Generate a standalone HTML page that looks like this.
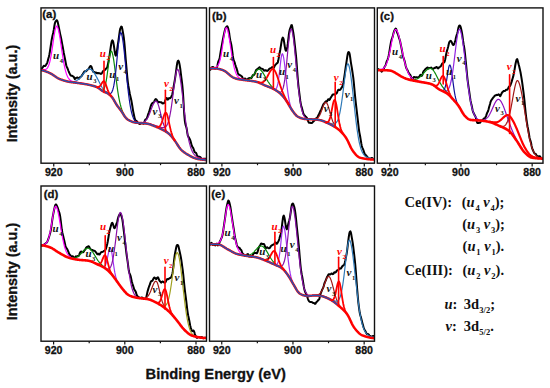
<!DOCTYPE html>
<html><head><meta charset="utf-8"><style>
html,body{margin:0;padding:0;background:#fff;}
svg{display:block}
.tk{font-family:"Liberation Sans",sans-serif;font-weight:bold;font-size:10.6px;text-anchor:middle;fill:#111;stroke:#111;stroke-width:0.3px}
.pl{font-family:"Liberation Sans",sans-serif;font-weight:bold;font-size:11.4px;fill:#111;stroke:#111;stroke-width:0.3px}
.ax{font-family:"Liberation Sans",sans-serif;font-weight:bold;font-size:14.7px;fill:#111;stroke:#111;stroke-width:0.3px}
.lb{font-family:"Liberation Serif",serif;font-weight:bold;font-style:italic;font-size:11px}
.sb{font-size:6.5px;font-style:normal}
.lg{font-family:"Liberation Serif",serif;font-weight:bold;font-size:14.5px;fill:#111}
.lgi{font-style:italic}
.lgs{font-size:8.5px}
</style></head><body>
<svg width="550" height="388" viewBox="0 0 550 388">
<rect width="550" height="388" fill="#fff"/>
<clipPath id="ca"><rect x="41.00" y="7.90" width="165.50" height="155.30"/></clipPath>
<g clip-path="url(#ca)" fill="none" stroke-linejoin="round" stroke-linecap="round">
<path d="M41.80,68.28 42.30,67.98 42.80,67.30 43.30,66.45 43.80,65.82 44.30,65.73 44.80,66.04 45.30,66.00 45.80,65.26 46.30,64.42 46.80,63.69 47.30,62.52 47.80,60.71 48.30,58.75 48.80,56.97 49.30,54.88 49.80,52.11 50.30,48.89 50.80,45.41 51.30,42.03 51.80,39.08 52.30,36.59 52.80,34.40 53.30,32.25 53.80,29.65 54.30,26.48 54.80,23.65 55.30,22.04 55.80,21.22 56.30,20.51 56.80,20.19 57.30,20.81 57.80,22.37 58.30,24.68 58.80,27.26 59.30,29.67 59.80,32.14 60.30,34.58 60.80,36.84 61.30,39.32 61.80,42.02 62.30,44.60 62.80,47.23 63.30,50.19 63.80,52.93 64.30,55.33 64.80,57.89 65.30,60.49 65.80,63.09 66.30,65.49 66.80,66.91 67.30,67.76 67.80,69.03 68.30,70.50 68.80,71.75 69.30,72.85 69.80,73.91 70.30,74.93 70.80,75.51 71.30,75.60 71.80,75.74 72.30,76.03 72.80,76.23 73.30,76.39 73.80,76.96 74.30,78.02 74.80,78.91 75.30,78.86 75.80,78.19 76.30,77.84 76.80,77.67 77.30,77.39 77.80,77.59 78.30,78.28 78.80,78.72 79.30,78.35 79.80,77.50 80.30,76.88 80.80,76.73 81.30,76.45 81.80,75.64 82.30,74.79 82.80,74.15 83.30,73.37 83.80,72.42 84.30,71.64 84.80,71.31 85.30,71.33 85.80,71.36 86.30,71.00 86.80,70.38 87.30,69.87 87.80,69.54 88.30,69.22 88.80,68.59 89.30,67.64 89.80,66.78 90.30,66.26 90.80,66.03 91.30,66.47 91.80,67.70 92.30,69.27 92.80,70.90 93.30,71.92 93.80,71.98 94.30,72.03 94.80,72.46 95.30,72.63 95.80,72.52 96.30,72.76 96.80,73.19 97.30,73.23 97.80,73.04 98.30,73.08 98.80,73.17 99.30,73.18 99.80,73.32 100.30,73.61 100.80,73.88 101.30,73.76 101.80,73.21 102.30,72.47 102.80,71.62 103.30,70.88 103.80,70.63 104.30,70.47 104.80,70.05 105.30,69.54 105.80,68.93 106.30,68.37 106.80,67.93 107.30,67.11 107.80,65.07 108.30,62.39 108.80,59.91 109.30,57.06 109.80,53.58 110.30,50.14 110.80,46.74 111.30,43.46 111.80,41.32 112.30,40.38 112.80,40.71 113.30,42.40 113.80,45.18 114.30,48.62 114.80,52.16 115.30,54.72 115.80,55.58 116.30,54.47 116.80,51.78 117.30,48.42 117.80,45.01 118.30,41.72 118.80,38.23 119.30,34.44 119.80,30.80 120.30,28.39 120.80,27.52 121.30,26.55 121.80,26.84 122.30,29.02 122.80,31.72 123.30,34.37 123.80,37.65 124.30,42.04 124.80,47.63 125.30,54.02 125.80,60.19 126.30,65.89 126.80,71.59 127.30,77.14 127.80,81.85 128.30,85.38 128.80,88.15 129.30,90.91 129.80,93.63 130.30,95.88 130.80,97.96 131.30,100.24 131.80,102.84 132.30,105.89 132.80,109.05 133.30,111.84 133.80,114.32 134.30,116.75 134.80,118.95 135.30,120.34 135.80,120.80 136.30,120.86 136.80,121.31 137.30,122.24 137.80,122.85 138.30,123.02 138.80,123.31 139.30,123.74 139.80,123.96 140.30,123.82 140.80,123.55 141.30,123.25 141.80,122.97 142.30,123.05 142.80,123.39 143.30,123.69 143.80,123.58 144.30,122.46 144.80,120.76 145.30,119.74 145.80,119.45 146.30,119.06 146.80,118.42 147.30,117.24 147.80,115.41 148.30,113.77 148.80,112.56 149.30,111.15 149.80,109.48 150.30,107.75 150.80,106.03 151.30,104.72 151.80,103.89 152.30,103.19 152.80,102.78 153.30,102.70 153.80,102.31 154.30,101.36 154.80,100.22 155.30,99.40 155.80,99.10 156.30,99.36 156.80,99.97 157.30,100.75 157.80,101.67 158.30,102.30 158.80,102.18 159.30,101.94 159.80,102.11 160.30,102.31 160.80,102.19 161.30,102.19 161.80,102.72 162.30,103.34 162.80,103.48 163.30,103.33 163.80,103.25 164.30,102.91 164.80,101.79 165.30,100.35 165.80,99.21 166.30,98.25 166.80,98.02 167.30,98.89 167.80,99.63 168.30,99.17 168.80,98.29 169.30,98.10 169.80,98.31 170.30,98.06 170.80,97.35 171.30,96.58 171.80,95.70 172.30,94.22 172.80,91.70 173.30,88.53 173.80,85.60 174.30,82.98 174.80,80.11 175.30,76.87 175.80,73.32 176.30,69.51 176.80,65.57 177.30,62.58 177.80,61.10 178.30,60.66 178.80,61.29 179.30,63.20 179.80,65.79 180.30,68.97 180.80,73.03 181.30,77.18 181.80,80.95 182.30,85.03 182.80,90.51 183.30,98.06 183.80,107.11 184.30,115.21 184.80,120.53 185.30,123.81 185.80,125.71 186.30,127.02 186.80,129.34 187.30,132.83 187.80,135.56 188.30,136.67 188.80,137.35 189.30,138.19 189.80,139.21 190.30,140.43 190.80,141.97 191.30,143.88 191.80,145.67 192.30,146.77 192.80,147.38 193.30,148.22 193.80,149.68 194.30,151.29 194.80,152.20 195.30,152.42 195.80,152.60 196.30,153.33 196.80,154.61 197.30,155.73 197.80,156.25 198.30,156.55 198.80,156.81 199.30,156.83 199.80,156.76 200.30,157.05 200.80,157.64 201.30,158.19 201.80,158.62 202.30,159.15 202.80,159.38 203.30,158.98 203.80,158.63 204.30,158.63 204.80,158.63 205.30,158.70 205.80,158.96" stroke="#000" stroke-width="2.00"/>
<path d="M41.80,69.58 42.30,69.60 42.80,69.63 43.30,69.66 43.80,69.68 44.30,69.68 44.80,69.63 45.30,69.53 45.80,69.35 46.30,69.07 46.80,68.66 47.30,68.09 47.80,67.33 48.30,66.35 48.80,65.11 49.30,63.58 49.80,61.74 50.30,59.59 50.80,57.12 51.30,54.35 51.80,51.30 52.30,48.04 52.80,44.64 53.30,41.18 53.80,37.78 54.30,34.57 54.80,31.69 55.30,29.28 55.80,27.47 56.30,26.39 56.80,26.11 57.30,26.59 57.80,27.68 58.30,29.33 58.80,31.48 59.30,34.06 59.80,36.97 60.30,40.14 60.80,43.47 61.30,46.88 61.80,50.30 62.30,53.66 62.80,56.89 63.30,59.95 63.80,62.80 64.30,65.43 64.80,67.81 65.30,69.93 65.80,71.81 66.30,73.45 66.80,74.87 67.30,76.08 67.80,77.11 68.30,77.97 68.80,78.69 69.30,79.29 69.80,79.78 70.30,80.19 70.80,80.53 71.30,80.81 71.80,81.04 72.30,81.24 72.80,81.41 73.30,81.56 73.80,81.69 74.30,81.80 74.80,81.91 75.30,82.01 75.80,82.11 76.30,82.20 76.80,82.30 77.30,82.39 77.80,82.48 78.30,82.57 78.80,82.66 79.30,82.75 79.80,82.84 80.30,82.93 80.80,83.02 81.30,83.11 81.80,83.20 82.30,83.29 82.80,83.37 83.30,83.46 83.80,83.55 84.30,83.65 84.80,83.74 85.30,83.83 85.80,83.93 86.30,84.03 86.80,84.13 87.30,84.24" stroke="#ff00ff" stroke-width="1.20"/>
<path d="M70.30,81.77 70.80,81.80 71.30,81.80 71.80,81.79 72.30,81.76 72.80,81.72 73.30,81.65 73.80,81.56 74.30,81.44 74.80,81.30 75.30,81.12 75.80,80.92 76.30,80.69 76.80,80.42 77.30,80.12 77.80,79.79 78.30,79.41 78.80,79.00 79.30,78.56 79.80,78.08 80.30,77.56 80.80,77.01 81.30,76.43 81.80,75.83 82.30,75.21 82.80,74.58 83.30,73.94 83.80,73.31 84.30,72.69 84.80,72.09 85.30,71.52 85.80,70.98 86.30,70.50 86.80,70.06 87.30,69.70 87.80,69.40 88.30,69.18 88.80,69.04 89.30,68.98 89.80,69.02 90.30,69.14 90.80,69.35 91.30,69.66 91.80,70.04 92.30,70.51 92.80,71.06 93.30,71.68 93.80,72.37 94.30,73.11 94.80,73.90 95.30,74.74 95.80,75.60 96.30,76.50 96.80,77.41 97.30,78.35 97.80,79.30 98.30,80.26 98.80,81.25 99.30,82.25 99.80,83.25 100.30,84.24 100.80,85.20 101.30,86.12 101.80,86.97 102.30,87.75 102.80,88.45 103.30,89.08 103.80,89.64 104.30,90.14 104.80,90.60 105.30,91.02 105.80,91.42 106.30,91.81 106.80,92.19 107.30,92.58 107.80,92.98 108.30,93.40 108.80,93.83 109.30,94.28 109.80,94.75" stroke="#2a78c0" stroke-width="1.20"/>
<path d="M100.80,89.54 101.30,89.83 101.80,90.02 102.30,90.08 102.80,89.97 103.30,89.64 103.80,89.04 104.30,88.12 104.80,86.83 105.30,85.12 105.80,82.95 106.30,80.31 106.80,77.22 107.30,73.74 107.80,69.97 108.30,66.05 108.80,62.18 109.30,58.57 109.80,55.46 110.30,53.06 110.80,51.56 111.30,51.11 111.80,51.71 112.30,53.03 112.80,55.01 113.30,57.60 113.80,60.71 114.30,64.26 114.80,68.10 115.30,72.13 115.80,76.22 116.30,80.25 116.80,84.16 117.30,87.86 117.80,91.31 118.30,94.49 118.80,97.38 119.30,99.98 119.80,102.31 120.30,104.39 120.80,106.25 121.30,107.92 121.80,109.43 122.30,110.82 122.80,112.09 123.30,113.26 123.80,114.33 124.30,115.30 124.80,116.16 125.30,116.93" stroke="#0a8a0a" stroke-width="1.20"/>
<path d="M107.30,93.04 107.80,93.24 108.30,93.43 108.80,93.58 109.30,93.68 109.80,93.69 110.30,93.59 110.80,93.32 111.30,92.85 111.80,92.12 112.30,91.09 112.80,89.71 113.30,87.91 113.80,85.64 114.30,82.86 114.80,79.53 115.30,75.64 115.80,71.24 116.30,66.39 116.80,61.23 117.30,55.91 117.80,50.64 118.30,45.65 118.80,41.17 119.30,37.43 119.80,34.62 120.30,32.93 120.80,32.48 121.30,33.22 121.80,34.78 122.30,37.10 122.80,40.12 123.30,43.77 123.80,47.94 124.30,52.53 124.80,57.43 125.30,62.52 125.80,67.70 126.30,72.86 126.80,77.94 127.30,82.85 127.80,87.53 128.30,91.93 128.80,96.02 129.30,99.77 129.80,103.16 130.30,106.21 130.80,108.92 131.30,111.29 131.80,113.36 132.30,115.13 132.80,116.63 133.30,117.89 133.80,118.94 134.30,119.80 134.80,120.49 135.30,121.05 135.80,121.49 136.30,121.84 136.80,122.11 137.30,122.32 137.80,122.49 138.30,122.62" stroke="#10109a" stroke-width="1.20"/>
<path d="M140.80,122.79 141.30,122.74 141.80,122.68 142.30,122.58 142.80,122.45 143.30,122.27 143.80,122.04 144.30,121.76 144.80,121.40 145.30,120.97 145.80,120.46 146.30,119.86 146.80,119.16 147.30,118.36 147.80,117.47 148.30,116.48 148.80,115.40 149.30,114.24 149.80,113.01 150.30,111.73 150.80,110.41 151.30,109.09 151.80,107.77 152.30,106.50 152.80,105.30 153.30,104.20 153.80,103.23 154.30,102.42 154.80,101.81 155.30,101.41 155.80,101.24 156.30,101.32 156.80,101.70 157.30,102.43 157.80,103.48 158.30,104.84 158.80,106.44 159.30,108.25 159.80,110.19 160.30,112.23 160.80,114.29 161.30,116.33 161.80,118.31 162.30,120.19 162.80,121.95 163.30,123.56 163.80,125.03 164.30,126.35 164.80,127.52 165.30,128.56 165.80,129.48 166.30,130.30 166.80,131.02 167.30,131.68 167.80,132.28 168.30,132.84 168.80,133.37 169.30,133.90" stroke="#8a10a8" stroke-width="1.20"/>
<path d="M134.30,122.14 134.80,122.23 135.30,122.31 135.80,122.38 136.30,122.43 136.80,122.47 137.30,122.51 137.80,122.54 138.30,122.57 138.80,122.60 139.30,122.62 139.80,122.65 140.30,122.67 140.80,122.70 141.30,122.73 141.80,122.77 142.30,122.80 142.80,122.83 143.30,122.87 143.80,122.90 144.30,122.94 144.80,122.98 145.30,123.02 145.80,123.07 146.30,123.12 146.80,123.17 147.30,123.23 147.80,123.31 148.30,123.39 148.80,123.49 149.30,123.61 149.80,123.74 150.30,123.88 150.80,124.04 151.30,124.20 151.80,124.38 152.30,124.55 152.80,124.72 153.30,124.90 153.80,125.06 154.30,125.23 154.80,125.39 155.30,125.55 155.80,125.71 156.30,125.87 156.80,126.03 157.30,126.19 157.80,126.35 158.30,126.51 158.80,126.68 159.30,126.84 159.80,127.00 160.30,127.15 160.80,127.29 161.30,127.42 161.80,127.53 162.30,127.61 162.80,127.66 163.30,127.68 163.80,127.64 164.30,127.53 164.80,127.35 165.30,127.06 165.80,126.66 166.30,126.11 166.80,125.38 167.30,124.46 167.80,123.31 168.30,121.91 168.80,120.24 169.30,118.27 169.80,116.00 170.30,113.43 170.80,110.55 171.30,107.38 171.80,103.93 172.30,100.25 172.80,96.39 173.30,92.41 173.80,88.40 174.30,84.46 174.80,80.71 175.30,77.28 175.80,74.31 176.30,71.93 176.80,70.25 177.30,69.36 177.80,69.35 178.30,70.17 178.80,71.59 179.30,73.57 179.80,76.05 180.30,78.97 180.80,82.27 181.30,85.89 181.80,89.76 182.30,93.82 182.80,98.00 183.30,102.24 183.80,106.48 184.30,110.66 184.80,114.74 185.30,118.68 185.80,122.44 186.30,126.00 186.80,129.34 187.30,132.44 187.80,135.31 188.30,137.94 188.80,140.33 189.30,142.50 189.80,144.45 190.30,146.20 190.80,147.75 191.30,149.14 191.80,150.36 192.30,151.44 192.80,152.39 193.30,153.22 193.80,153.95 194.30,154.58 194.80,155.14 195.30,155.62 195.80,156.04 196.30,156.40 196.80,156.72 197.30,156.99 197.80,157.22 198.30,157.43 198.80,157.62 199.30,157.78 199.80,157.94 200.30,158.08 200.80,158.21 201.30,158.34 201.80,158.45 202.30,158.56 202.80,158.66 203.30,158.75 203.80,158.84 204.30,158.91 204.80,158.98 205.30,159.04 205.80,159.09" stroke="#8a10a8" stroke-width="1.20"/>
<path d="M41.80,70.29 42.30,70.38 42.80,70.49 43.30,70.62 43.80,70.76 44.30,70.92 44.80,71.09 45.30,71.26 45.80,71.44 46.30,71.62 46.80,71.81 47.30,72.01 47.80,72.21 48.30,72.41 48.80,72.62 49.30,72.84 49.80,73.08 50.30,73.32 50.80,73.58 51.30,73.86 51.80,74.16 52.30,74.47 52.80,74.80 53.30,75.13 53.80,75.47 54.30,75.82 54.80,76.16 55.30,76.50 55.80,76.84 56.30,77.17 56.80,77.49 57.30,77.79 57.80,78.08 58.30,78.35 58.80,78.59 59.30,78.82 59.80,79.04 60.30,79.24 60.80,79.44 61.30,79.62 61.80,79.80 62.30,79.98 62.80,80.15 63.30,80.32 63.80,80.48 64.30,80.63 64.80,80.78 65.30,80.92 65.80,81.06 66.30,81.19 66.80,81.31 67.30,81.43 67.80,81.54 68.30,81.65 68.80,81.75 69.30,81.84 69.80,81.93 70.30,82.01 70.80,82.09 71.30,82.16 71.80,82.23 72.30,82.30 72.80,82.37 73.30,82.43 73.80,82.49 74.30,82.55 74.80,82.61 75.30,82.67 75.80,82.73 76.30,82.79 76.80,82.85 77.30,82.91 77.80,82.98 78.30,83.05 78.80,83.12 79.30,83.19 79.80,83.26 80.30,83.33 80.80,83.41 81.30,83.48 81.80,83.56 82.30,83.63 82.80,83.71 83.30,83.78 83.80,83.86 84.30,83.94 84.80,84.03 85.30,84.11 85.80,84.20 86.30,84.29 86.80,84.38 87.30,84.48 87.80,84.58 88.30,84.68 88.80,84.79 89.30,84.90 89.80,85.01 90.30,85.13 90.80,85.24 91.30,85.37 91.80,85.49 92.30,85.62 92.80,85.76 93.30,85.90 93.80,86.05 94.30,86.20 94.80,86.37 95.30,86.54 95.80,86.72 96.30,86.91 96.80,87.11 97.30,87.33 97.80,87.57 98.30,87.85 98.80,88.17 99.30,88.52 99.80,88.91 100.30,89.31 100.80,89.73 101.30,90.13 101.80,90.51 102.30,90.86 102.80,91.17 103.30,91.44 103.80,91.67 104.30,91.89 104.80,92.09 105.30,92.29 105.80,92.49 106.30,92.71 106.80,92.95 107.30,93.21 107.80,93.50 108.30,93.82 108.80,94.18 109.30,94.56 109.80,94.98 110.30,95.42 110.80,95.90 111.30,96.43 111.80,97.00 112.30,97.63 112.80,98.33 113.30,99.10 113.80,99.92 114.30,100.79 114.80,101.67 115.30,102.55 115.80,103.41 116.30,104.22 116.80,104.99 117.30,105.72 117.80,106.42 118.30,107.08 118.80,107.74 119.30,108.38 119.80,109.03 120.30,109.69 120.80,110.37 121.30,111.08 121.80,111.83 122.30,112.61 122.80,113.41 123.30,114.21 123.80,115.01 124.30,115.78 124.80,116.50 125.30,117.16 125.80,117.75 126.30,118.28 126.80,118.75 127.30,119.17 127.80,119.55 128.30,119.89 128.80,120.19 129.30,120.47 129.80,120.73 130.30,120.97 130.80,121.19 131.30,121.41 131.80,121.61 132.30,121.80 132.80,121.97 133.30,122.13 133.80,122.27 134.30,122.38 134.80,122.49 135.30,122.57 135.80,122.64 136.30,122.70 136.80,122.75 137.30,122.79 137.80,122.83 138.30,122.87 138.80,122.90 139.30,122.93 139.80,122.97 140.30,123.00 140.80,123.04 141.30,123.08 141.80,123.12 142.30,123.16 142.80,123.21 143.30,123.25 143.80,123.30 144.30,123.35 144.80,123.40 145.30,123.46 145.80,123.51 146.30,123.58 146.80,123.65 147.30,123.72 147.80,123.81 148.30,123.91 148.80,124.03 149.30,124.16 149.80,124.31 150.30,124.48 150.80,124.66 151.30,124.84 151.80,125.04 152.30,125.24 152.80,125.44 153.30,125.64 153.80,125.84 154.30,126.03 154.80,126.23 155.30,126.42 155.80,126.62 156.30,126.82 156.80,127.02 157.30,127.23 157.80,127.44 158.30,127.66 158.80,127.89 159.30,128.12 159.80,128.35 160.30,128.59 160.80,128.83 161.30,129.08 161.80,129.33 162.30,129.59 162.80,129.85 163.30,130.11 163.80,130.39 164.30,130.67 164.80,130.96 165.30,131.26 165.80,131.57 166.30,131.89 166.80,132.22 167.30,132.57 167.80,132.93 168.30,133.31 168.80,133.71 169.30,134.14 169.80,134.59 170.30,135.09 170.80,135.61 171.30,136.17 171.80,136.76 172.30,137.36 172.80,137.99 173.30,138.64 173.80,139.29 174.30,139.96 174.80,140.65 175.30,141.37 175.80,142.11 176.30,142.88 176.80,143.67 177.30,144.48 177.80,145.27 178.30,146.06 178.80,146.81 179.30,147.51 179.80,148.17 180.30,148.77 180.80,149.32 181.30,149.83 181.80,150.31 182.30,150.76 182.80,151.19 183.30,151.60 183.80,152.00 184.30,152.38 184.80,152.74 185.30,153.09 185.80,153.43 186.30,153.75 186.80,154.07 187.30,154.37 187.80,154.66 188.30,154.95 188.80,155.23 189.30,155.50 189.80,155.78 190.30,156.05 190.80,156.32 191.30,156.58 191.80,156.83 192.30,157.08 192.80,157.32 193.30,157.55 193.80,157.76 194.30,157.97 194.80,158.16 195.30,158.34 195.80,158.50 196.30,158.65 196.80,158.78 197.30,158.90 197.80,159.00 198.30,159.09 198.80,159.18 199.30,159.26 199.80,159.34 200.30,159.41 200.80,159.48 201.30,159.55 201.80,159.61 202.30,159.67 202.80,159.73 203.30,159.78 203.80,159.83 204.30,159.87 204.80,159.90 205.30,159.93 205.80,159.95" stroke="#ff0000" stroke-width="2.50"/>
<path d="M41.80,70.29 42.30,70.38 42.80,70.49 43.30,70.62 43.80,70.76 44.30,70.92 44.80,71.09 45.30,71.26 45.80,71.44 46.30,71.62 46.80,71.81 47.30,72.01 47.80,72.21 48.30,72.41 48.80,72.62 49.30,72.84 49.80,73.08 50.30,73.32 50.80,73.58 51.30,73.86 51.80,74.16 52.30,74.47 52.80,74.80 53.30,75.13 53.80,75.47 54.30,75.82 54.80,76.16 55.30,76.50 55.80,76.84 56.30,77.17 56.80,77.49 57.30,77.79 57.80,78.08 58.30,78.35 58.80,78.59 59.30,78.82 59.80,79.04 60.30,79.24 60.80,79.44 61.30,79.62 61.80,79.80 62.30,79.98 62.80,80.15 63.30,80.32 63.80,80.48 64.30,80.63 64.80,80.78 65.30,80.92 65.80,81.06 66.30,81.19 66.80,81.31 67.30,81.43 67.80,81.54 68.30,81.65 68.80,81.75 69.30,81.84 69.80,81.93 70.30,82.01 70.80,82.09 71.30,82.16 71.80,82.23 72.30,82.30 72.80,82.37 73.30,82.43 73.80,82.49 74.30,82.55 74.80,82.61 75.30,82.67 75.80,82.73 76.30,82.79 76.80,82.85 77.30,82.91 77.80,82.98 78.30,83.05 78.80,83.12 79.30,83.19 79.80,83.26 80.30,83.33 80.80,83.41 81.30,83.48 81.80,83.56 82.30,83.63 82.80,83.71 83.30,83.78 83.80,83.86 84.30,83.94 84.80,84.03 85.30,84.11 85.80,84.20 86.30,84.29 86.80,84.38 87.30,84.48 87.80,84.58 88.30,84.68 88.80,84.79 89.30,84.90 89.80,85.01 90.30,85.13 90.80,85.24 91.30,85.37 91.80,85.49 92.30,85.62 92.80,85.76 93.30,85.90 93.80,86.05 94.30,86.20 94.80,86.37 95.30,86.54 95.80,86.72 96.30,86.91 96.80,87.11 97.30,87.33 97.80,87.57 98.30,87.85 98.80,88.17 99.30,88.52 99.80,88.91 100.30,89.31 100.80,89.73 101.30,90.13 101.80,90.51 102.30,90.86 102.80,91.17 103.30,91.44 103.80,91.67 104.30,91.89 104.80,92.09 105.30,92.29 105.80,92.49 106.30,92.71 106.80,92.95 107.30,93.21 107.80,93.50 108.30,93.82 108.80,94.18 109.30,94.56 109.80,94.98 110.30,95.42 110.80,95.90 111.30,96.43 111.80,97.00 112.30,97.63 112.80,98.33 113.30,99.10 113.80,99.92 114.30,100.79 114.80,101.67 115.30,102.55 115.80,103.41 116.30,104.22 116.80,104.99 117.30,105.72 117.80,106.42 118.30,107.08 118.80,107.74 119.30,108.38 119.80,109.03 120.30,109.69 120.80,110.37 121.30,111.08 121.80,111.83 122.30,112.61 122.80,113.41 123.30,114.21 123.80,115.01 124.30,115.78 124.80,116.50 125.30,117.16 125.80,117.75 126.30,118.28 126.80,118.75 127.30,119.17 127.80,119.55 128.30,119.89 128.80,120.19 129.30,120.47 129.80,120.73 130.30,120.97 130.80,121.19 131.30,121.41 131.80,121.61 132.30,121.80 132.80,121.97 133.30,122.13 133.80,122.27 134.30,122.38 134.80,122.49 135.30,122.57 135.80,122.64 136.30,122.70 136.80,122.75 137.30,122.79 137.80,122.83 138.30,122.87 138.80,122.90 139.30,122.93 139.80,122.97 140.30,123.00 140.80,123.04 141.30,123.08 141.80,123.12 142.30,123.16 142.80,123.21 143.30,123.25 143.80,123.30 144.30,123.35 144.80,123.40 145.30,123.46 145.80,123.51 146.30,123.58 146.80,123.65 147.30,123.72 147.80,123.81 148.30,123.91 148.80,124.03 149.30,124.16 149.80,124.31 150.30,124.48 150.80,124.66 151.30,124.84 151.80,125.04 152.30,125.24 152.80,125.44 153.30,125.64 153.80,125.84 154.30,126.03 154.80,126.23 155.30,126.42 155.80,126.62 156.30,126.82 156.80,127.02 157.30,127.23 157.80,127.44 158.30,127.66 158.80,127.89 159.30,128.12 159.80,128.35 160.30,128.59 160.80,128.83 161.30,129.08 161.80,129.33 162.30,129.59 162.80,129.85 163.30,130.11 163.80,130.39 164.30,130.67 164.80,130.96 165.30,131.26 165.80,131.57 166.30,131.89 166.80,132.22 167.30,132.57 167.80,132.93 168.30,133.31 168.80,133.71 169.30,134.14 169.80,134.59 170.30,135.09 170.80,135.61 171.30,136.17 171.80,136.76 172.30,137.36 172.80,137.99 173.30,138.64 173.80,139.29 174.30,139.96 174.80,140.65 175.30,141.37 175.80,142.11 176.30,142.88 176.80,143.67 177.30,144.48 177.80,145.27 178.30,146.06 178.80,146.81 179.30,147.51 179.80,148.17 180.30,148.77 180.80,149.32 181.30,149.83 181.80,150.31 182.30,150.76 182.80,151.19 183.30,151.60 183.80,152.00 184.30,152.38 184.80,152.74 185.30,153.09 185.80,153.43 186.30,153.75 186.80,154.07 187.30,154.37 187.80,154.66 188.30,154.95 188.80,155.23 189.30,155.50 189.80,155.78 190.30,156.05 190.80,156.32 191.30,156.58 191.80,156.83 192.30,157.08 192.80,157.32 193.30,157.55 193.80,157.76 194.30,157.97 194.80,158.16 195.30,158.34 195.80,158.50 196.30,158.65 196.80,158.78 197.30,158.90 197.80,159.00 198.30,159.09 198.80,159.18 199.30,159.26 199.80,159.34 200.30,159.41 200.80,159.48 201.30,159.55 201.80,159.61 202.30,159.67 202.80,159.73 203.30,159.78 203.80,159.83 204.30,159.87 204.80,159.90 205.30,159.93 205.80,159.95" stroke="#2a50b0" stroke-width="1.5"/>
<path d="M96.80,86.92 97.30,87.00 97.80,87.03 98.30,86.99 98.80,86.86 99.30,86.60 99.80,86.21 100.30,85.66 100.80,84.96 101.30,84.14 101.80,83.28 102.30,82.45 102.80,81.77 103.30,81.32 103.80,81.21 104.30,81.46 104.80,82.10 105.30,83.07 105.80,84.31 106.30,85.72 106.80,87.21 107.30,88.67 107.80,90.05 108.30,91.29 108.80,92.40 109.30,93.35 109.80,94.19 110.30,94.93 110.80,95.61 111.30,96.25" stroke="#ff0000" stroke-width="1.80"/>
<path d="M156.80,126.86 157.30,126.97 157.80,127.02 158.30,127.00 158.80,126.87 159.30,126.62 159.80,126.19 160.30,125.57 160.80,124.72 161.30,123.64 161.80,122.33 162.30,120.83 162.80,119.20 163.30,117.54 163.80,115.94 164.30,114.54 164.80,113.45 165.30,112.78 165.80,112.61 166.30,112.99 166.80,113.90 167.30,115.30 167.80,117.11 168.30,119.22 168.80,121.52 169.30,123.88 169.80,126.20 170.30,128.41 170.80,130.45 171.30,132.29 171.80,133.92 172.30,135.35 172.80,136.61 173.30,137.71 173.80,138.69 174.30,139.58 174.80,140.42" stroke="#ff0000" stroke-width="1.80"/>
<path d="M104.00,61.40 V92.50" stroke="#ff0000" stroke-width="1.6"/>
<path d="M165.40,90.20 V131.00" stroke="#ff0000" stroke-width="1.6"/>
</g>
<text x="53.10" y="58.90" fill="#111" class="lb">u<tspan class="sb" dx="0.5" dy="3.6">4</tspan></text>
<text x="86.60" y="79.70" fill="#111" class="lb">u<tspan class="sb" dx="0.5" dy="3.6">3</tspan></text>
<text x="99.80" y="56.70" fill="#ff0000" class="lb">u<tspan class="sb" dx="0.5" dy="3.6">2</tspan></text>
<text x="109.30" y="77.80" fill="#111" class="lb">u<tspan class="sb" dx="0.5" dy="3.6">1</tspan></text>
<text x="118.20" y="70.20" fill="#111" class="lb">v<tspan class="sb" dx="0.5" dy="3.6">4</tspan></text>
<text x="152.50" y="114.50" fill="#111" class="lb">v<tspan class="sb" dx="0.5" dy="3.6">3</tspan></text>
<text x="163.90" y="87.00" fill="#ff0000" class="lb">v<tspan class="sb" dx="0.5" dy="3.6">2</tspan></text>
<text x="174.00" y="104.40" fill="#111" class="lb">v<tspan class="sb" dx="0.5" dy="3.6">1</tspan></text>
<rect x="41.00" y="7.90" width="165.50" height="155.30" fill="none" stroke="#111" stroke-width="1.4"/>
<path d="M53.75,163.20 V166.60" stroke="#111" stroke-width="1.2"/>
<text x="53.75" y="175.80" class="tk">920</text>
<path d="M89.35,163.20 V165.20" stroke="#111" stroke-width="1.2"/>
<path d="M124.95,163.20 V166.60" stroke="#111" stroke-width="1.2"/>
<text x="124.95" y="175.80" class="tk">900</text>
<path d="M160.55,163.20 V165.20" stroke="#111" stroke-width="1.2"/>
<path d="M196.15,163.20 V166.60" stroke="#111" stroke-width="1.2"/>
<text x="196.15" y="175.80" class="tk">880</text>
<text x="42.30" y="18.40" class="pl">(a)</text>
<clipPath id="cb"><rect x="209.50" y="7.90" width="165.00" height="155.30"/></clipPath>
<g clip-path="url(#cb)" fill="none" stroke-linejoin="round" stroke-linecap="round">
<path d="M210.30,69.79 210.80,68.79 211.30,67.80 211.80,67.33 212.30,67.10 212.80,66.91 213.30,67.13 213.80,67.63 214.30,68.02 214.80,68.46 215.30,68.65 215.80,68.42 216.30,68.16 216.80,67.55 217.30,65.92 217.80,63.61 218.30,61.59 218.80,60.46 219.30,59.39 219.80,57.19 220.30,54.01 220.80,50.86 221.30,48.10 221.80,45.43 222.30,42.67 222.80,39.98 223.30,37.39 223.80,34.96 224.30,32.71 224.80,30.55 225.30,28.75 225.80,27.64 226.30,26.98 226.80,26.42 227.30,26.29 227.80,27.15 228.30,28.85 228.80,31.03 229.30,34.03 229.80,37.56 230.30,40.42 230.80,42.45 231.30,44.69 231.80,47.84 232.30,51.70 232.80,55.73 233.30,58.90 233.80,60.58 234.30,61.54 234.80,62.90 235.30,64.68 235.80,66.30 236.30,67.69 236.80,69.17 237.30,70.89 237.80,72.76 238.30,74.16 238.80,74.68 239.30,74.78 239.80,74.99 240.30,75.31 240.80,75.71 241.30,76.03 241.80,76.35 242.30,77.14 242.80,78.23 243.30,78.99 243.80,79.29 244.30,79.05 244.80,78.52 245.30,78.54 245.80,79.11 246.30,79.52 246.80,79.69 247.30,79.64 247.80,79.08 248.30,78.36 248.80,78.26 249.30,78.48 249.80,78.19 250.30,77.83 250.80,78.05 251.30,78.15 251.80,77.48 252.30,76.25 252.80,75.24 253.30,75.03 253.80,75.13 254.30,74.64 254.80,73.54 255.30,72.12 255.80,70.72 256.30,69.76 256.80,69.44 257.30,69.23 257.80,68.80 258.30,68.42 258.80,67.88 259.30,67.32 259.80,67.37 260.30,67.89 260.80,68.36 261.30,68.55 261.80,68.67 262.30,68.84 262.80,69.06 263.30,69.58 263.80,70.37 264.30,70.70 264.80,70.48 265.30,70.32 265.80,70.31 266.30,70.48 266.80,70.79 267.30,70.92 267.80,70.68 268.30,70.06 268.80,69.40 269.30,68.82 269.80,68.46 270.30,68.36 270.80,68.25 271.30,67.93 271.80,67.39 272.30,67.06 272.80,67.38 273.30,67.93 273.80,67.88 274.30,66.86 274.80,65.59 275.30,64.91 275.80,64.50 276.30,63.81 276.80,63.27 277.30,63.18 277.80,62.44 278.30,60.33 278.80,57.61 279.30,54.90 279.80,52.28 280.30,49.52 280.80,46.32 281.30,43.10 281.80,40.37 282.30,38.42 282.80,37.62 283.30,38.13 283.80,40.11 284.30,43.25 284.80,46.56 285.30,49.41 285.80,50.78 286.30,50.62 286.80,49.27 287.30,47.00 287.80,43.67 288.30,39.31 288.80,35.01 289.30,31.66 289.80,29.39 290.30,28.18 290.80,26.93 291.30,25.25 291.80,25.08 292.30,27.07 292.80,29.82 293.30,32.67 293.80,36.24 294.30,40.48 294.80,44.92 295.30,49.31 295.80,53.90 296.30,59.14 296.80,65.50 297.30,72.59 297.80,79.13 298.30,84.52 298.80,88.77 299.30,92.77 299.80,96.99 300.30,100.88 300.80,103.87 301.30,105.97 301.80,107.63 302.30,109.42 302.80,111.48 303.30,113.48 303.80,114.73 304.30,115.13 304.80,115.49 305.30,116.15 305.80,116.76 306.30,117.22 306.80,117.68 307.30,118.47 307.80,119.97 308.30,121.65 308.80,122.60 309.30,122.87 309.80,122.80 310.30,122.78 310.80,122.93 311.30,123.10 311.80,123.08 312.30,122.66 312.80,122.06 313.30,121.59 313.80,121.15 314.30,120.64 314.80,119.77 315.30,118.87 315.80,118.52 316.30,118.37 316.80,117.94 317.30,117.28 317.80,116.44 318.30,115.48 318.80,114.52 319.30,113.52 319.80,112.38 320.30,111.25 320.80,110.33 321.30,109.36 321.80,108.15 322.30,106.91 322.80,105.62 323.30,104.45 323.80,103.76 324.30,103.26 324.80,102.59 325.30,101.84 325.80,101.32 326.30,101.35 326.80,101.52 327.30,100.97 327.80,99.80 328.30,99.19 328.80,99.51 329.30,99.90 329.80,99.48 330.30,98.40 330.80,97.48 331.30,96.90 331.80,95.96 332.30,94.95 332.80,94.60 333.30,94.52 333.80,94.34 334.30,94.54 334.80,94.61 335.30,94.00 335.80,93.64 336.30,93.66 336.80,93.09 337.30,91.81 337.80,90.51 338.30,89.73 338.80,89.68 339.30,89.97 339.80,90.01 340.30,89.69 340.80,89.01 341.30,88.11 341.80,87.38 342.30,86.59 342.80,85.18 343.30,82.96 343.80,80.08 344.30,76.95 344.80,73.65 345.30,69.99 345.80,66.44 346.30,63.26 346.80,59.93 347.30,56.44 347.80,53.60 348.30,52.21 348.80,52.08 349.30,52.84 349.80,54.80 350.30,58.14 350.80,61.83 351.30,64.91 351.80,67.77 352.30,71.00 352.80,74.32 353.30,77.93 353.80,82.62 354.30,88.00 354.80,93.32 355.30,98.32 355.80,102.83 356.30,107.04 356.80,111.38 357.30,115.73 357.80,119.94 358.30,124.26 358.80,128.56 359.30,132.08 359.80,134.69 360.30,137.29 360.80,140.36 361.30,143.43 361.80,145.95 362.30,147.65 362.80,148.68 363.30,149.79 363.80,151.35 364.30,152.99 364.80,154.05 365.30,154.47 365.80,155.06 366.30,155.78 366.80,156.17 367.30,156.70 367.80,157.65 368.30,158.29 368.80,158.38 369.30,158.43 369.80,158.64 370.30,158.76 370.80,158.55 371.30,158.08 371.80,157.89 372.30,158.14 372.80,158.54 373.30,158.97 373.80,159.23" stroke="#000" stroke-width="2.00"/>
<path d="M210.30,67.98 210.80,67.95 211.30,67.92 211.80,67.89 212.30,67.85 212.80,67.80 213.30,67.75 213.80,67.68 214.30,67.59 214.80,67.48 215.30,67.34 215.80,67.16 216.30,66.93 216.80,66.60 217.30,66.16 217.80,65.57 218.30,64.78 218.80,63.75 219.30,62.45 219.80,60.83 220.30,58.86 220.80,56.55 221.30,53.89 221.80,50.91 222.30,47.67 222.80,44.26 223.30,40.79 223.80,37.40 224.30,34.26 224.80,31.56 225.30,29.46 225.80,28.13 226.30,27.69 226.80,28.12 227.30,29.19 227.80,30.84 228.30,32.99 228.80,35.58 229.30,38.52 229.80,41.70 230.30,45.02 230.80,48.40 231.30,51.74 231.80,54.97 232.30,58.03 232.80,60.88 233.30,63.49 233.80,65.86 234.30,67.97 234.80,69.83 235.30,71.44 235.80,72.82 236.30,73.99 236.80,74.97 237.30,75.79 237.80,76.45 238.30,77.00 238.80,77.45 239.30,77.82 239.80,78.12 240.30,78.37 240.80,78.58 241.30,78.76 241.80,78.91 242.30,79.05 242.80,79.17 243.30,79.29 243.80,79.40 244.30,79.51 244.80,79.61 245.30,79.70 245.80,79.79 246.30,79.88 246.80,79.96 247.30,80.04 247.80,80.12 248.30,80.20 248.80,80.28 249.30,80.35 249.80,80.43 250.30,80.50 250.80,80.58 251.30,80.65 251.80,80.73 252.30,80.81 252.80,80.90 253.30,80.98" stroke="#ff00ff" stroke-width="1.20"/>
<path d="M245.30,79.93 245.80,79.92 246.30,79.89 246.80,79.83 247.30,79.74 247.80,79.62 248.30,79.45 248.80,79.25 249.30,79.00 249.80,78.70 250.30,78.34 250.80,77.93 251.30,77.46 251.80,76.94 252.30,76.37 252.80,75.75 253.30,75.09 253.80,74.40 254.30,73.69 254.80,72.98 255.30,72.28 255.80,71.62 256.30,71.00 256.80,70.45 257.30,69.99 257.80,69.64 258.30,69.41 258.80,69.31 259.30,69.35 259.80,69.52 260.30,69.81 260.80,70.21 261.30,70.69 261.80,71.27 262.30,71.92 262.80,72.64 263.30,73.42 263.80,74.25 264.30,75.10 264.80,75.98 265.30,76.87 265.80,77.76 266.30,78.65 266.80,79.51 267.30,80.36 267.80,81.18 268.30,81.97 268.80,82.72 269.30,83.43 269.80,84.11 270.30,84.75 270.80,85.35 271.30,85.91 271.80,86.45 272.30,86.95 272.80,87.43 273.30,87.88 273.80,88.32 274.30,88.73 274.80,89.14 275.30,89.53 275.80,89.91 276.30,90.29 276.80,90.67" stroke="#0a8a0a" stroke-width="1.20"/>
<path d="M274.30,89.16 274.80,89.24 275.30,89.18 275.80,88.93 276.30,88.39 276.80,87.45 277.30,85.99 277.80,83.90 278.30,81.13 278.80,77.67 279.30,73.61 279.80,69.15 280.30,64.61 280.80,60.38 281.30,56.89 281.80,54.56 282.30,53.67 282.80,54.30 283.30,55.98 283.80,58.60 284.30,62.01 284.80,66.03 285.30,70.46 285.80,75.08 286.30,79.71 286.80,84.18 287.30,88.37 287.80,92.19 288.30,95.60 288.80,98.58 289.30,101.13 289.80,103.31 290.30,105.14 290.80,106.68 291.30,107.98 291.80,109.09 292.30,110.06 292.80,110.93 293.30,111.73" stroke="#a030f0" stroke-width="1.20"/>
<path d="M277.80,91.38 278.30,91.64 278.80,91.86 279.30,92.03 279.80,92.13 280.30,92.13 280.80,91.98 281.30,91.66 281.80,91.09 282.30,90.24 282.80,89.02 283.30,87.38 283.80,85.26 284.30,82.61 284.80,79.41 285.30,75.64 285.80,71.34 286.30,66.59 286.80,61.47 287.30,56.14 287.80,50.77 288.30,45.56 288.80,40.72 289.30,36.46 289.80,33.00 290.30,30.51 290.80,29.15 291.30,29.03 291.80,30.01 292.30,31.80 292.80,34.36 293.30,37.62 293.80,41.53 294.30,45.96 294.80,50.82 295.30,55.98 295.80,61.32 296.30,66.72 296.80,72.06 297.30,77.26 297.80,82.23 298.30,86.92 298.80,91.28 299.30,95.29 299.80,98.93 300.30,102.19 300.80,105.07 301.30,107.58 301.80,109.75 302.30,111.60 302.80,113.15 303.30,114.44 303.80,115.50 304.30,116.36 304.80,117.04 305.30,117.58 305.80,118.01 306.30,118.33 306.80,118.58 307.30,118.77 307.80,118.92 308.30,119.03" stroke="#8a10a8" stroke-width="1.20"/>
<path d="M314.30,119.30 314.80,119.24 315.30,119.16 315.80,119.04 316.30,118.87 316.80,118.63 317.30,118.31 317.80,117.90 318.30,117.37 318.80,116.71 319.30,115.92 319.80,114.98 320.30,113.91 320.80,112.72 321.30,111.41 321.80,110.04 322.30,108.63 322.80,107.23 323.30,105.91 323.80,104.71 324.30,103.71 324.80,102.95 325.30,102.48 325.80,102.34 326.30,102.54 326.80,103.08 327.30,103.95 327.80,105.11 328.30,106.52 328.80,108.12 329.30,109.86 329.80,111.67 330.30,113.50 330.80,115.29 331.30,117.01 331.80,118.62 332.30,120.10 332.80,121.43 333.30,122.62 333.80,123.67 334.30,124.59 334.80,125.40 335.30,126.11 335.80,126.74 336.30,127.30 336.80,127.81 337.30,128.29 337.80,128.75" stroke="#a01818" stroke-width="1.20"/>
<path d="M308.80,119.03 309.30,119.04 309.80,119.05 310.30,119.05 310.80,119.06 311.30,119.07 311.80,119.08 312.30,119.08 312.80,119.09 313.30,119.11 313.80,119.12 314.30,119.14 314.80,119.16 315.30,119.18 315.80,119.21 316.30,119.25 316.80,119.29 317.30,119.33 317.80,119.38 318.30,119.44 318.80,119.51 319.30,119.58 319.80,119.66 320.30,119.76 320.80,119.87 321.30,119.99 321.80,120.13 322.30,120.28 322.80,120.44 323.30,120.61 323.80,120.79 324.30,120.97 324.80,121.16 325.30,121.36 325.80,121.56 326.30,121.76 326.80,121.96 327.30,122.17 327.80,122.36 328.30,122.56 328.80,122.75 329.30,122.93 329.80,123.11 330.30,123.28 330.80,123.45 331.30,123.59 331.80,123.73 332.30,123.84 332.80,123.92 333.30,123.96 333.80,123.95 334.30,123.88 334.80,123.74 335.30,123.49 335.80,123.13 336.30,122.62 336.80,121.95 337.30,121.09 337.80,120.01 338.30,118.69 338.80,117.09 339.30,115.21 339.80,113.03 340.30,110.53 340.80,107.72 341.30,104.61 341.80,101.22 342.30,97.57 342.80,93.73 343.30,89.75 343.80,85.70 344.30,81.68 344.80,77.79 345.30,74.14 345.80,70.85 346.30,68.05 346.80,65.87 347.30,64.44 347.80,63.83 348.30,64.10 348.80,65.23 349.30,67.01 349.80,69.39 350.30,72.30 350.80,75.66 351.30,79.40 351.80,83.44 352.30,87.71 352.80,92.15 353.30,96.71 353.80,101.33 354.30,105.96 354.80,110.54 355.30,115.00 355.80,119.32 356.30,123.43 356.80,127.31 357.30,130.93 357.80,134.27 358.30,137.32 358.80,140.07 359.30,142.53 359.80,144.70 360.30,146.62 360.80,148.29 361.30,149.75 361.80,151.03 362.30,152.13 362.80,153.09 363.30,153.91 363.80,154.62 364.30,155.22 364.80,155.74 365.30,156.18 365.80,156.56 366.30,156.88 366.80,157.16 367.30,157.40 367.80,157.60 368.30,157.78 368.80,157.94 369.30,158.08 369.80,158.20 370.30,158.31 370.80,158.40 371.30,158.49 371.80,158.56 372.30,158.63 372.80,158.69 373.30,158.74 373.80,158.78" stroke="#2f7ab8" stroke-width="1.20"/>
<path d="M210.30,68.40 210.80,68.40 211.30,68.40 211.80,68.40 212.30,68.40 212.80,68.40 213.30,68.40 213.80,68.40 214.30,68.41 214.80,68.42 215.30,68.44 215.80,68.48 216.30,68.53 216.80,68.59 217.30,68.67 217.80,68.76 218.30,68.86 218.80,68.97 219.30,69.08 219.80,69.19 220.30,69.32 220.80,69.45 221.30,69.59 221.80,69.75 222.30,69.92 222.80,70.10 223.30,70.30 223.80,70.53 224.30,70.78 224.80,71.06 225.30,71.38 225.80,71.73 226.30,72.11 226.80,72.51 227.30,72.92 227.80,73.34 228.30,73.77 228.80,74.20 229.30,74.63 229.80,75.07 230.30,75.50 230.80,75.91 231.30,76.30 231.80,76.65 232.30,76.97 232.80,77.26 233.30,77.52 233.80,77.76 234.30,77.98 234.80,78.18 235.30,78.36 235.80,78.53 236.30,78.69 236.80,78.82 237.30,78.94 237.80,79.05 238.30,79.15 238.80,79.25 239.30,79.33 239.80,79.41 240.30,79.48 240.80,79.56 241.30,79.63 241.80,79.69 242.30,79.76 242.80,79.83 243.30,79.90 243.80,79.97 244.30,80.04 244.80,80.11 245.30,80.18 245.80,80.25 246.30,80.31 246.80,80.38 247.30,80.44 247.80,80.50 248.30,80.56 248.80,80.62 249.30,80.68 249.80,80.74 250.30,80.80 250.80,80.87 251.30,80.93 251.80,81.00 252.30,81.07 252.80,81.15 253.30,81.23 253.80,81.31 254.30,81.39 254.80,81.49 255.30,81.58 255.80,81.69 256.30,81.80 256.80,81.93 257.30,82.07 257.80,82.23 258.30,82.41 258.80,82.60 259.30,82.80 259.80,83.02 260.30,83.24 260.80,83.48 261.30,83.71 261.80,83.95 262.30,84.19 262.80,84.43 263.30,84.66 263.80,84.89 264.30,85.11 264.80,85.33 265.30,85.54 265.80,85.74 266.30,85.94 266.80,86.13 267.30,86.32 267.80,86.52 268.30,86.71 268.80,86.90 269.30,87.10 269.80,87.30 270.30,87.50 270.80,87.71 271.30,87.93 271.80,88.15 272.30,88.38 272.80,88.62 273.30,88.87 273.80,89.13 274.30,89.39 274.80,89.67 275.30,89.96 275.80,90.26 276.30,90.57 276.80,90.89 277.30,91.22 277.80,91.57 278.30,91.93 278.80,92.30 279.30,92.70 279.80,93.11 280.30,93.54 280.80,94.00 281.30,94.49 281.80,95.00 282.30,95.54 282.80,96.11 283.30,96.71 283.80,97.32 284.30,97.96 284.80,98.61 285.30,99.28 285.80,99.98 286.30,100.71 286.80,101.47 287.30,102.27 287.80,103.10 288.30,103.96 288.80,104.83 289.30,105.70 289.80,106.56 290.30,107.40 290.80,108.22 291.30,109.00 291.80,109.75 292.30,110.48 292.80,111.19 293.30,111.89 293.80,112.57 294.30,113.23 294.80,113.87 295.30,114.46 295.80,115.01 296.30,115.50 296.80,115.93 297.30,116.31 297.80,116.63 298.30,116.91 298.80,117.17 299.30,117.40 299.80,117.62 300.30,117.83 300.80,118.02 301.30,118.20 301.80,118.36 302.30,118.51 302.80,118.65 303.30,118.77 303.80,118.87 304.30,118.95 304.80,119.02 305.30,119.08 305.80,119.12 306.30,119.16 306.80,119.19 307.30,119.21 307.80,119.23 308.30,119.25 308.80,119.27 309.30,119.29 309.80,119.30 310.30,119.32 310.80,119.33 311.30,119.35 311.80,119.36 312.30,119.38 312.80,119.40 313.30,119.42 313.80,119.44 314.30,119.47 314.80,119.50 315.30,119.53 315.80,119.57 316.30,119.62 316.80,119.67 317.30,119.72 317.80,119.79 318.30,119.86 318.80,119.94 319.30,120.02 319.80,120.12 320.30,120.24 320.80,120.36 321.30,120.50 321.80,120.66 322.30,120.83 322.80,121.01 323.30,121.20 323.80,121.40 324.30,121.61 324.80,121.83 325.30,122.05 325.80,122.28 326.30,122.51 326.80,122.75 327.30,122.99 327.80,123.23 328.30,123.47 328.80,123.71 329.30,123.95 329.80,124.19 330.30,124.43 330.80,124.68 331.30,124.94 331.80,125.20 332.30,125.46 332.80,125.74 333.30,126.02 333.80,126.30 334.30,126.60 334.80,126.90 335.30,127.21 335.80,127.54 336.30,127.87 336.80,128.21 337.30,128.57 337.80,128.94 338.30,129.32 338.80,129.72 339.30,130.13 339.80,130.57 340.30,131.02 340.80,131.50 341.30,132.00 341.80,132.52 342.30,133.06 342.80,133.63 343.30,134.21 343.80,134.82 344.30,135.46 344.80,136.11 345.30,136.80 345.80,137.52 346.30,138.28 346.80,139.12 347.30,140.02 347.80,140.99 348.30,142.03 348.80,143.12 349.30,144.22 349.80,145.32 350.30,146.39 350.80,147.41 351.30,148.35 351.80,149.22 352.30,150.02 352.80,150.76 353.30,151.46 353.80,152.13 354.30,152.77 354.80,153.40 355.30,154.00 355.80,154.58 356.30,155.12 356.80,155.62 357.30,156.07 357.80,156.48 358.30,156.84 358.80,157.14 359.30,157.39 359.80,157.59 360.30,157.76 360.80,157.89 361.30,158.02 361.80,158.13 362.30,158.24 362.80,158.34 363.30,158.44 363.80,158.53 364.30,158.62 364.80,158.71 365.30,158.79 365.80,158.87 366.30,158.95 366.80,159.02 367.30,159.08 367.80,159.15 368.30,159.21 368.80,159.26 369.30,159.31 369.80,159.36 370.30,159.40 370.80,159.44 371.30,159.47 371.80,159.50 372.30,159.53 372.80,159.55 373.30,159.56 373.80,159.57" stroke="#ff0000" stroke-width="2.50"/>
<path d="M210.30,68.40 210.80,68.40 211.30,68.40 211.80,68.40 212.30,68.40 212.80,68.40 213.30,68.40 213.80,68.40 214.30,68.41 214.80,68.42 215.30,68.44 215.80,68.48 216.30,68.53 216.80,68.59 217.30,68.67 217.80,68.76 218.30,68.86 218.80,68.97 219.30,69.08 219.80,69.19 220.30,69.32 220.80,69.45 221.30,69.59 221.80,69.75 222.30,69.92 222.80,70.10 223.30,70.30 223.80,70.53 224.30,70.78 224.80,71.06 225.30,71.38 225.80,71.73 226.30,72.11 226.80,72.51 227.30,72.92 227.80,73.34 228.30,73.77 228.80,74.20 229.30,74.63 229.80,75.07 230.30,75.50 230.80,75.91 231.30,76.30 231.80,76.65 232.30,76.97 232.80,77.26 233.30,77.52 233.80,77.76 234.30,77.98 234.80,78.18 235.30,78.36 235.80,78.53 236.30,78.69 236.80,78.82 237.30,78.94 237.80,79.05 238.30,79.15 238.80,79.25 239.30,79.33 239.80,79.41 240.30,79.48 240.80,79.56 241.30,79.63 241.80,79.69 242.30,79.76 242.80,79.83 243.30,79.90 243.80,79.97 244.30,80.04 244.80,80.11 245.30,80.18 245.80,80.25 246.30,80.31 246.80,80.38 247.30,80.44 247.80,80.50 248.30,80.56 248.80,80.62 249.30,80.68 249.80,80.74 250.30,80.80 250.80,80.87 251.30,80.93 251.80,81.00 252.30,81.07 252.80,81.15 253.30,81.23 253.80,81.31 254.30,81.39 254.80,81.49 255.30,81.58 255.80,81.69 256.30,81.80 256.80,81.93 257.30,82.07 257.80,82.23 258.30,82.41 258.80,82.60 259.30,82.80 259.80,83.02 260.30,83.24 260.80,83.48 261.30,83.71 261.80,83.95 262.30,84.19 262.80,84.43 263.30,84.66 263.80,84.89 264.30,85.11 264.80,85.33 265.30,85.54 265.80,85.74 266.30,85.94 266.80,86.13 267.30,86.32 267.80,86.52 268.30,86.71 268.80,86.90 269.30,87.10 269.80,87.30 270.30,87.50 270.80,87.71 271.30,87.93 271.80,88.15 272.30,88.38 272.80,88.62 273.30,88.87 273.80,89.13 274.30,89.39 274.80,89.67 275.30,89.96 275.80,90.26 276.30,90.57 276.80,90.89 277.30,91.22 277.80,91.57 278.30,91.93 278.80,92.30 279.30,92.70 279.80,93.11 280.30,93.54 280.80,94.00 281.30,94.49 281.80,95.00 282.30,95.54 282.80,96.11 283.30,96.71 283.80,97.32 284.30,97.96 284.80,98.61 285.30,99.28 285.80,99.98 286.30,100.71 286.80,101.47 287.30,102.27 287.80,103.10 288.30,103.96 288.80,104.83 289.30,105.70 289.80,106.56 290.30,107.40 290.80,108.22 291.30,109.00 291.80,109.75 292.30,110.48 292.80,111.19 293.30,111.89 293.80,112.57 294.30,113.23 294.80,113.87 295.30,114.46 295.80,115.01 296.30,115.50 296.80,115.93 297.30,116.31 297.80,116.63 298.30,116.91 298.80,117.17 299.30,117.40 299.80,117.62 300.30,117.83 300.80,118.02 301.30,118.20 301.80,118.36 302.30,118.51 302.80,118.65 303.30,118.77 303.80,118.87 304.30,118.95 304.80,119.02 305.30,119.08 305.80,119.12 306.30,119.16 306.80,119.19 307.30,119.21 307.80,119.23 308.30,119.25 308.80,119.27 309.30,119.29 309.80,119.30 310.30,119.32 310.80,119.33 311.30,119.35 311.80,119.36 312.30,119.38 312.80,119.40 313.30,119.42 313.80,119.44 314.30,119.47 314.80,119.50 315.30,119.53 315.80,119.57 316.30,119.62 316.80,119.67 317.30,119.72 317.80,119.79 318.30,119.86 318.80,119.94 319.30,120.02 319.80,120.12 320.30,120.24 320.80,120.36 321.30,120.50 321.80,120.66 322.30,120.83 322.80,121.01 323.30,121.20 323.80,121.40 324.30,121.61 324.80,121.83 325.30,122.05 325.80,122.28 326.30,122.51 326.80,122.75 327.30,122.99 327.80,123.23 328.30,123.47 328.80,123.71 329.30,123.95 329.80,124.19 330.30,124.43 330.80,124.68 331.30,124.94 331.80,125.20 332.30,125.46 332.80,125.74 333.30,126.02 333.80,126.30" stroke="#2a50b0" stroke-width="1.5"/>
<path d="M258.30,82.17 258.80,82.28 259.30,82.38 259.80,82.46 260.30,82.52 260.80,82.55 261.30,82.54 261.80,82.48 262.30,82.35 262.80,82.16 263.30,81.90 263.80,81.55 264.30,81.11 264.80,80.58 265.30,79.97 265.80,79.26 266.30,78.47 266.80,77.62 267.30,76.70 267.80,75.75 268.30,74.77 268.80,73.80 269.30,72.85 269.80,71.95 270.30,71.13 270.80,70.42 271.30,69.83 271.80,69.40 272.30,69.13 272.80,69.06 273.30,69.17 273.80,69.49 274.30,70.00 274.80,70.70 275.30,71.58 275.80,72.63 276.30,73.81 276.80,75.12 277.30,76.52 277.80,78.00 278.30,79.52 278.80,81.07 279.30,82.62 279.80,84.15 280.30,85.66 280.80,87.14 281.30,88.56 281.80,89.94 282.30,91.26 282.80,92.52 283.30,93.72 283.80,94.87 284.30,95.96 284.80,97.00 285.30,98.00 285.80,98.96 286.30,99.91 286.80,100.85 287.30,101.79 287.80,102.74 288.30,103.68 288.80,104.62" stroke="#ff0000" stroke-width="1.80"/>
<path d="M325.80,122.12 326.30,122.24 326.80,122.29 327.30,122.23 327.80,122.03 328.30,121.63 328.80,120.97 329.30,120.01 329.80,118.69 330.30,116.99 330.80,114.93 331.30,112.56 331.80,109.97 332.30,107.33 332.80,104.80 333.30,102.62 333.80,100.97 334.30,100.02 334.80,99.90 335.30,100.64 335.80,102.20 336.30,104.47 336.80,107.28 337.30,110.43 337.80,113.71 338.30,116.94 338.80,119.96 339.30,122.69 339.80,125.07 340.30,127.09 340.80,128.77 341.30,130.16 341.80,131.33 342.30,132.31 342.80,133.17 343.30,133.94 343.80,134.67" stroke="#ff0000" stroke-width="1.80"/>
<path d="M273.40,57.60 V89.00" stroke="#ff0000" stroke-width="1.6"/>
<path d="M335.20,82.40 V127.00" stroke="#ff0000" stroke-width="1.6"/>
</g>
<text x="223.00" y="57.00" fill="#111" class="lb">u<tspan class="sb" dx="0.5" dy="3.6">4</tspan></text>
<text x="256.00" y="77.80" fill="#111" class="lb">u<tspan class="sb" dx="0.5" dy="3.6">3</tspan></text>
<text x="269.90" y="53.30" fill="#ff0000" class="lb">u<tspan class="sb" dx="0.5" dy="3.6">2</tspan></text>
<text x="278.90" y="74.90" fill="#111" class="lb">u<tspan class="sb" dx="0.5" dy="3.6">1</tspan></text>
<text x="287.30" y="68.20" fill="#111" class="lb">v<tspan class="sb" dx="0.5" dy="3.6">4</tspan></text>
<text x="323.70" y="112.10" fill="#111" class="lb">v<tspan class="sb" dx="0.5" dy="3.6">3</tspan></text>
<text x="333.80" y="81.20" fill="#ff0000" class="lb">v<tspan class="sb" dx="0.5" dy="3.6">2</tspan></text>
<text x="344.70" y="97.70" fill="#111" class="lb">v<tspan class="sb" dx="0.5" dy="3.6">1</tspan></text>
<rect x="209.50" y="7.90" width="165.00" height="155.30" fill="none" stroke="#111" stroke-width="1.4"/>
<path d="M221.90,163.20 V166.60" stroke="#111" stroke-width="1.2"/>
<text x="221.90" y="175.80" class="tk">920</text>
<path d="M257.50,163.20 V165.20" stroke="#111" stroke-width="1.2"/>
<path d="M293.10,163.20 V166.60" stroke="#111" stroke-width="1.2"/>
<text x="293.10" y="175.80" class="tk">900</text>
<path d="M328.70,163.20 V165.20" stroke="#111" stroke-width="1.2"/>
<path d="M364.30,163.20 V166.60" stroke="#111" stroke-width="1.2"/>
<text x="364.30" y="175.80" class="tk">880</text>
<text x="212.00" y="19.70" class="pl">(b)</text>
<clipPath id="cc"><rect x="377.30" y="7.90" width="165.70" height="155.30"/></clipPath>
<g clip-path="url(#cc)" fill="none" stroke-linejoin="round" stroke-linecap="round">
<path d="M378.10,69.16 378.60,69.50 379.10,69.85 379.60,69.90 380.10,69.74 380.60,70.04 381.10,70.98 381.60,71.63 382.10,71.22 382.60,70.23 383.10,69.54 383.60,68.97 384.10,67.92 384.60,66.82 385.10,66.07 385.60,65.08 386.10,63.42 386.60,61.74 387.10,60.62 387.60,59.64 388.10,58.07 388.60,55.97 389.10,53.40 389.60,50.33 390.10,47.20 390.60,44.23 391.10,41.55 391.60,39.57 392.10,38.29 392.60,36.95 393.10,34.98 393.60,32.83 394.10,31.26 394.60,30.24 395.10,29.31 395.60,28.54 396.10,28.84 396.60,30.50 397.10,32.42 397.60,33.61 398.10,34.66 398.60,36.35 399.10,38.12 399.60,39.50 400.10,41.27 400.60,43.70 401.10,46.16 401.60,48.48 402.10,51.16 402.60,54.16 403.10,56.63 403.60,58.23 404.10,59.44 404.60,60.96 405.10,63.14 405.60,65.44 406.10,67.38 406.60,68.76 407.10,69.58 407.60,70.46 408.10,71.69 408.60,72.80 409.10,73.63 409.60,74.26 410.10,74.74 410.60,75.60 411.10,77.06 411.60,78.44 412.10,79.32 412.60,79.35 413.10,78.36 413.60,77.25 414.10,76.90 414.60,77.14 415.10,77.48 415.60,77.48 416.10,77.28 416.60,77.25 417.10,77.34 417.60,77.49 418.10,77.46 418.60,77.15 419.10,76.66 419.60,75.96 420.10,75.18 420.60,74.83 421.10,75.30 421.60,75.87 422.10,75.52 422.60,74.12 423.10,72.39 423.60,71.19 424.10,70.64 424.60,70.09 425.10,69.44 425.60,68.94 426.10,68.55 426.60,68.09 427.10,67.60 427.60,67.45 428.10,67.96 428.60,68.47 429.10,68.24 429.60,67.89 430.10,67.88 430.60,67.75 431.10,67.56 431.60,67.90 432.10,68.54 432.60,68.89 433.10,68.96 433.60,68.68 434.10,68.10 434.60,67.84 435.10,67.94 435.60,67.74 436.10,67.11 436.60,66.92 437.10,67.45 437.60,68.15 438.10,68.46 438.60,68.06 439.10,67.39 439.60,67.03 440.10,66.75 440.60,66.37 441.10,65.79 441.60,64.78 442.10,63.83 442.60,63.33 443.10,63.00 443.60,62.78 444.10,62.46 444.60,61.64 445.10,59.91 445.60,57.20 446.10,54.35 446.60,52.13 447.10,50.36 447.60,48.75 448.10,46.94 448.60,44.68 449.10,42.72 449.60,41.66 450.10,41.08 450.60,40.87 451.10,41.19 451.60,42.00 452.10,43.11 452.60,44.26 453.10,45.00 453.60,45.08 454.10,44.31 454.60,42.83 455.10,41.12 455.60,39.21 456.10,37.06 456.60,35.23 457.10,33.82 457.60,31.89 458.10,29.26 458.60,27.07 459.10,25.86 459.60,25.44 460.10,25.76 460.60,26.88 461.10,28.70 461.60,31.02 462.10,33.74 462.60,37.15 463.10,40.97 463.60,44.21 464.10,46.88 464.60,50.26 465.10,54.82 465.60,59.80 466.10,64.72 466.60,70.02 467.10,75.48 467.60,80.07 468.10,83.96 468.60,87.45 469.10,90.65 469.60,94.10 470.10,97.77 470.60,100.92 471.10,103.18 471.60,105.20 472.10,107.70 472.60,110.24 473.10,112.00 473.60,113.06 474.10,114.06 474.60,115.11 475.10,115.91 475.60,116.92 476.10,118.79 476.60,120.99 477.10,122.46 477.60,123.01 478.10,123.09 478.60,122.99 479.10,122.81 479.60,122.83 480.10,122.77 480.60,121.92 481.10,120.82 481.60,120.42 482.10,120.57 482.60,120.39 483.10,119.50 483.60,118.69 484.10,118.52 484.60,118.45 485.10,117.96 485.60,117.05 486.10,115.83 486.60,114.32 487.10,112.94 487.60,112.08 488.10,111.04 488.60,109.19 489.10,107.13 489.60,105.45 490.10,103.75 490.60,101.86 491.10,100.53 491.60,99.88 492.10,99.23 492.60,98.41 493.10,97.72 493.60,97.17 494.10,96.60 494.60,95.93 495.10,95.44 495.60,95.36 496.10,95.19 496.60,94.86 497.10,94.96 497.60,95.01 498.10,94.65 498.60,94.34 499.10,94.60 499.60,95.49 500.10,96.14 500.60,95.66 501.10,94.46 501.60,93.37 502.10,92.53 502.60,91.99 503.10,91.53 503.60,91.04 504.10,90.91 504.60,91.01 505.10,90.87 505.60,90.30 506.10,89.78 506.60,89.72 507.10,89.72 507.60,89.35 508.10,88.52 508.60,87.36 509.10,86.57 509.60,86.40 510.10,85.92 510.60,84.76 511.10,83.38 511.60,81.85 512.10,80.11 512.60,78.48 513.10,76.91 513.60,74.84 514.10,72.18 514.60,69.33 515.10,66.28 515.60,63.46 516.10,61.30 516.60,59.62 517.10,59.03 517.60,60.14 518.10,62.25 518.60,64.26 519.10,66.08 519.60,68.14 520.10,70.37 520.60,72.76 521.10,75.57 521.60,78.64 522.10,81.89 522.60,85.49 523.10,89.35 523.60,93.23 524.10,97.32 524.60,102.10 525.10,107.40 525.60,112.31 526.10,116.54 526.60,120.34 527.10,123.79 527.60,126.73 528.10,129.21 528.60,131.88 529.10,134.98 529.60,137.95 530.10,139.89 530.60,141.18 531.10,143.24 531.60,145.94 532.10,148.11 532.60,149.48 533.10,150.54 533.60,151.68 534.10,152.74 534.60,153.47 535.10,153.75 535.60,153.91 536.10,154.50 536.60,155.31 537.10,155.94 537.60,156.16 538.10,156.24 538.60,156.36 539.10,156.26 539.60,156.13 540.10,156.49 540.60,157.44 541.10,158.39 541.60,158.76 542.10,158.65" stroke="#000" stroke-width="2.00"/>
<path d="M378.10,69.70 378.60,69.66 379.10,69.61 379.60,69.55 380.10,69.48 380.60,69.38 381.10,69.27 381.60,69.12 382.10,68.93 382.60,68.69 383.10,68.40 383.60,68.03 384.10,67.57 384.60,67.01 385.10,66.33 385.60,65.52 386.10,64.56 386.60,63.43 387.10,62.13 387.60,60.63 388.10,58.94 388.60,57.05 389.10,54.97 389.60,52.72 390.10,50.32 390.60,47.81 391.10,45.23 391.60,42.65 392.10,40.13 392.60,37.73 393.10,35.51 393.60,33.55 394.10,31.91 394.60,30.65 395.10,29.82 395.60,29.47 396.10,29.61 396.60,30.12 397.10,30.94 397.60,32.04 398.10,33.42 398.60,35.05 399.10,36.90 399.60,38.92 400.10,41.10 400.60,43.37 401.10,45.72 401.60,48.10 402.10,50.48 402.60,52.84 403.10,55.16 403.60,57.40 404.10,59.56 404.60,61.62 405.10,63.57 405.60,65.39 406.10,67.09 406.60,68.65 407.10,70.08 407.60,71.38 408.10,72.55 408.60,73.60 409.10,74.54 409.60,75.37 410.10,76.10 410.60,76.75 411.10,77.32 411.60,77.82 412.10,78.26 412.60,78.64 413.10,78.98 413.60,79.27 414.10,79.53 414.60,79.76 415.10,79.97 415.60,80.16 416.10,80.33 416.60,80.49 417.10,80.64 417.60,80.78 418.10,80.91 418.60,81.04 419.10,81.17 419.60,81.29 420.10,81.41 420.60,81.52 421.10,81.63 421.60,81.74 422.10,81.84 422.60,81.94 423.10,82.03 423.60,82.13 424.10,82.22 424.60,82.31 425.10,82.40 425.60,82.50 426.10,82.59 426.60,82.69 427.10,82.79 427.60,82.90 428.10,83.01 428.60,83.12" stroke="#ff00ff" stroke-width="1.20"/>
<path d="M410.10,79.65 410.60,79.72 411.10,79.77 411.60,79.81 412.10,79.83 412.60,79.83 413.10,79.82 413.60,79.79 414.10,79.73 414.60,79.65 415.10,79.55 415.60,79.42 416.10,79.26 416.60,79.07 417.10,78.86 417.60,78.61 418.10,78.33 418.60,78.02 419.10,77.68 419.60,77.30 420.10,76.90 420.60,76.46 421.10,75.99 421.60,75.49 422.10,74.96 422.60,74.42 423.10,73.86 423.60,73.29 424.10,72.72 424.60,72.16 425.10,71.61 425.60,71.07 426.10,70.56 426.60,70.09 427.10,69.66 427.60,69.28 428.10,68.96 428.60,68.70 429.10,68.51 429.60,68.40 430.10,68.36 430.60,68.41 431.10,68.55 431.60,68.78 432.10,69.12 432.60,69.56 433.10,70.10 433.60,70.74 434.10,71.47 434.60,72.27 435.10,73.14 435.60,74.06 436.10,75.02 436.60,76.01 437.10,77.03 437.60,78.04 438.10,79.05 438.60,80.04 439.10,81.01 439.60,81.95 440.10,82.85 440.60,83.71 441.10,84.54 441.60,85.33 442.10,86.08 442.60,86.80 443.10,87.48 443.60,88.14 444.10,88.76 444.60,89.37 445.10,89.95 445.60,90.52 446.10,91.07 446.60,91.62 447.10,92.18 447.60,92.74 448.10,93.30 448.60,93.88 449.10,94.48 449.60,95.08 450.10,95.68 450.60,96.29 451.10,96.90 451.60,97.50 452.10,98.10" stroke="#0a8a0a" stroke-width="1.20"/>
<path d="M441.60,90.47 442.10,90.58 442.60,90.60 443.10,90.50 443.60,90.19 444.10,89.63 444.60,88.71 445.10,87.37 445.60,85.54 446.10,83.20 446.60,80.40 447.10,77.25 447.60,73.94 448.10,70.77 448.60,68.02 449.10,66.02 449.60,65.02 450.10,65.17 450.60,66.38 451.10,68.52 451.60,71.43 452.10,74.90 452.60,78.70 453.10,82.60 453.60,86.37 454.10,89.87 454.60,93.00 455.10,95.69 455.60,97.97 456.10,99.86 456.60,101.42 457.10,102.71 457.60,103.81 458.10,104.79 458.60,105.68 459.10,106.55" stroke="#10109a" stroke-width="1.20"/>
<path d="M442.60,90.87 443.10,91.02 443.60,91.15 444.10,91.24 444.60,91.30 445.10,91.31 445.60,91.26 446.10,91.14 446.60,90.93 447.10,90.61 447.60,90.16 448.10,89.56 448.60,88.78 449.10,87.78 449.60,86.53 450.10,85.00 450.60,83.17 451.10,81.01 451.60,78.51 452.10,75.66 452.60,72.48 453.10,68.99 453.60,65.23 454.10,61.26 454.60,57.13 455.10,52.95 455.60,48.79 456.10,44.77 456.60,41.00 457.10,37.57 457.60,34.61 458.10,32.21 458.60,30.47 459.10,29.46 459.60,29.25 460.10,29.85 460.60,31.08 461.10,32.84 461.60,35.09 462.10,37.79 462.60,40.88 463.10,44.30 463.60,47.99 464.10,51.91 464.60,55.99 465.10,60.19 465.60,64.48 466.10,68.80 466.60,73.10 467.10,77.33 467.60,81.45 468.10,85.40 468.60,89.15 469.10,92.68 469.60,95.94 470.10,98.94 470.60,101.68 471.10,104.15 471.60,106.38 472.10,108.38 472.60,110.15 473.10,111.72 473.60,113.09 474.10,114.29 474.60,115.32 475.10,116.20 475.60,116.96 476.10,117.59 476.60,118.13 477.10,118.59 477.60,118.97 478.10,119.28 478.60,119.55 479.10,119.78 479.60,119.97 480.10,120.13 480.60,120.27 481.10,120.40" stroke="#9020e0" stroke-width="1.20"/>
<path d="M480.60,120.37 481.10,120.36 481.60,120.33 482.10,120.29 482.60,120.22 483.10,120.13 483.60,120.01 484.10,119.86 484.60,119.67 485.10,119.43 485.60,119.15 486.10,118.80 486.60,118.40 487.10,117.93 487.60,117.38 488.10,116.77 488.60,116.07 489.10,115.30 489.60,114.46 490.10,113.54 490.60,112.57 491.10,111.54 491.60,110.46 492.10,109.35 492.60,108.21 493.10,107.07 493.60,105.94 494.10,104.84 494.60,103.78 495.10,102.80 495.60,101.90 496.10,101.11 496.60,100.45 497.10,99.94 497.60,99.58 498.10,99.39 498.60,99.37 499.10,99.54 499.60,99.86 500.10,100.31 500.60,100.90 501.10,101.62 501.60,102.46 502.10,103.41 502.60,104.47 503.10,105.62 503.60,106.85 504.10,108.15 504.60,109.50 505.10,110.90 505.60,112.32 506.10,113.76 506.60,115.21 507.10,116.65 507.60,118.09 508.10,119.51 508.60,120.91 509.10,122.29 509.60,123.65 510.10,125.00 510.60,126.33 511.10,127.64 511.60,128.92 512.10,130.17 512.60,131.39 513.10,132.56 513.60,133.70 514.10,134.80 514.60,135.86 515.10,136.87 515.60,137.84 516.10,138.78 516.60,139.70 517.10,140.61 517.60,141.51 518.10,142.41 518.60,143.31 519.10,144.21 519.60,145.10 520.10,145.98" stroke="#9010c0" stroke-width="1.20"/>
<path d="M500.10,126.07 500.60,126.20 501.10,126.32 501.60,126.40 502.10,126.44 502.60,126.44 503.10,126.38 503.60,126.26 504.10,126.07 504.60,125.78 505.10,125.38 505.60,124.85 506.10,124.19 506.60,123.37 507.10,122.37 507.60,121.18 508.10,119.79 508.60,118.20 509.10,116.40 509.60,114.40 510.10,112.22 510.60,109.85 511.10,107.32 511.60,104.66 512.10,101.90 512.60,99.08 513.10,96.25 513.60,93.47 514.10,90.80 514.60,88.30 515.10,86.04 515.60,84.08 516.10,82.49 516.60,81.33 517.10,80.66 517.60,80.52 518.10,80.93 518.60,81.82 519.10,83.02 519.60,84.52 520.10,86.30 520.60,88.34 521.10,90.61 521.60,93.08 522.10,95.73 522.60,98.52 523.10,101.42 523.60,104.40 524.10,107.44 524.60,110.52 525.10,113.62 525.60,116.72 526.10,119.80 526.60,122.83 527.10,125.80 527.60,128.67 528.10,131.44 528.60,134.07 529.10,136.56 529.60,138.89 530.10,141.05 530.60,143.04 531.10,144.85 531.60,146.49 532.10,147.97 532.60,149.30 533.10,150.50 533.60,151.56 534.10,152.52 534.60,153.37 535.10,154.12 535.60,154.78 536.10,155.36 536.60,155.87 537.10,156.31 537.60,156.69 538.10,157.02 538.60,157.30 539.10,157.54 539.60,157.74 540.10,157.90 540.60,158.04 541.10,158.16 541.60,158.25 542.10,158.33" stroke="#a01818" stroke-width="1.20"/>
<path d="M378.10,70.20 378.60,70.20 379.10,70.20 379.60,70.20 380.10,70.20 380.60,70.20 381.10,70.20 381.60,70.20 382.10,70.20 382.60,70.20 383.10,70.20 383.60,70.20 384.10,70.20 384.60,70.20 385.10,70.21 385.60,70.22 386.10,70.24 386.60,70.26 387.10,70.29 387.60,70.33 388.10,70.37 388.60,70.43 389.10,70.48 389.60,70.55 390.10,70.62 390.60,70.71 391.10,70.82 391.60,70.96 392.10,71.14 392.60,71.34 393.10,71.58 393.60,71.84 394.10,72.12 394.60,72.41 395.10,72.71 395.60,73.01 396.10,73.30 396.60,73.60 397.10,73.90 397.60,74.20 398.10,74.51 398.60,74.82 399.10,75.14 399.60,75.46 400.10,75.77 400.60,76.08 401.10,76.37 401.60,76.65 402.10,76.92 402.60,77.17 403.10,77.41 403.60,77.65 404.10,77.87 404.60,78.09 405.10,78.29 405.60,78.49 406.10,78.69 406.60,78.87 407.10,79.04 407.60,79.20 408.10,79.35 408.60,79.50 409.10,79.63 409.60,79.76 410.10,79.88 410.60,80.00 411.10,80.12 411.60,80.23 412.10,80.33 412.60,80.44 413.10,80.54 413.60,80.63 414.10,80.73 414.60,80.82 415.10,80.92 415.60,81.01 416.10,81.10 416.60,81.19 417.10,81.29 417.60,81.38 418.10,81.47 418.60,81.57 419.10,81.66 419.60,81.76 420.10,81.85 420.60,81.95 421.10,82.04 421.60,82.13 422.10,82.21 422.60,82.30 423.10,82.38 423.60,82.46 424.10,82.54 424.60,82.62 425.10,82.70 425.60,82.79 426.10,82.88 426.60,82.96 427.10,83.06 427.60,83.16 428.10,83.26 428.60,83.37 429.10,83.48 429.60,83.61 430.10,83.74 430.60,83.89 431.10,84.05 431.60,84.23 432.10,84.44 432.60,84.69 433.10,84.96 433.60,85.27 434.10,85.60 434.60,85.96 435.10,86.33 435.60,86.71 436.10,87.10 436.60,87.49 437.10,87.87 437.60,88.25 438.10,88.61 438.60,88.95 439.10,89.27 439.60,89.57 440.10,89.85 440.60,90.11 441.10,90.36 441.60,90.60 442.10,90.83 442.60,91.06 443.10,91.29 443.60,91.52 444.10,91.75 444.60,92.00 445.10,92.25 445.60,92.52 446.10,92.81 446.60,93.13 447.10,93.47 447.60,93.84 448.10,94.24 448.60,94.68 449.10,95.14 449.60,95.64 450.10,96.15 450.60,96.68 451.10,97.22 451.60,97.77 452.10,98.32 452.60,98.87 453.10,99.41 453.60,99.96 454.10,100.51 454.60,101.06 455.10,101.62 455.60,102.18 456.10,102.76 456.60,103.36 457.10,103.97 457.60,104.60 458.10,105.26 458.60,105.96 459.10,106.70 459.60,107.50 460.10,108.34 460.60,109.22 461.10,110.12 461.60,111.02 462.10,111.91 462.60,112.77 463.10,113.58 463.60,114.32 464.10,114.99 464.60,115.60 465.10,116.16 465.60,116.68 466.10,117.18 466.60,117.64 467.10,118.08 467.60,118.48 468.10,118.84 468.60,119.15 469.10,119.41 469.60,119.62 470.10,119.77 470.60,119.88 471.10,119.96 471.60,120.02 472.10,120.07 472.60,120.11 473.10,120.14 473.60,120.17 474.10,120.20 474.60,120.22 475.10,120.25 475.60,120.27 476.10,120.29 476.60,120.31 477.10,120.34 477.60,120.36 478.10,120.39 478.60,120.42 479.10,120.46 479.60,120.50 480.10,120.54 480.60,120.59 481.10,120.64 481.60,120.69 482.10,120.75 482.60,120.81 483.10,120.87 483.60,120.93 484.10,121.00 484.60,121.07 485.10,121.14 485.60,121.22 486.10,121.30 486.60,121.39 487.10,121.48 487.60,121.57 488.10,121.66 488.60,121.77 489.10,121.87 489.60,121.99 490.10,122.12 490.60,122.26 491.10,122.41 491.60,122.58 492.10,122.76 492.60,122.94 493.10,123.14 493.60,123.35 494.10,123.56 494.60,123.78 495.10,124.00 495.60,124.23 496.10,124.46 496.60,124.69 497.10,124.93 497.60,125.16 498.10,125.39 498.60,125.61 499.10,125.84 499.60,126.05 500.10,126.27 500.60,126.48 501.10,126.69 501.60,126.90 502.10,127.11 502.60,127.32 503.10,127.54 503.60,127.76 504.10,127.99 504.60,128.23 505.10,128.47 505.60,128.73 506.10,129.00 506.60,129.28 507.10,129.58 507.60,129.89 508.10,130.23 508.60,130.60 509.10,131.00 509.60,131.44 510.10,131.93 510.60,132.46 511.10,133.03 511.60,133.63 512.10,134.27 512.60,134.93 513.10,135.62 513.60,136.32 514.10,137.03 514.60,137.74 515.10,138.46 515.60,139.17 516.10,139.89 516.60,140.62 517.10,141.36 517.60,142.13 518.10,142.92 518.60,143.72 519.10,144.54 519.60,145.37 520.10,146.19 520.60,147.01 521.10,147.80 521.60,148.57 522.10,149.31 522.60,150.01 523.10,150.66 523.60,151.27 524.10,151.83 524.60,152.37 525.10,152.88 525.60,153.38 526.10,153.87 526.60,154.34 527.10,154.80 527.60,155.24 528.10,155.65 528.60,156.03 529.10,156.39 529.60,156.71 530.10,156.98 530.60,157.22 531.10,157.41 531.60,157.57 532.10,157.69 532.60,157.78 533.10,157.86 533.60,157.94 534.10,158.00 534.60,158.06 535.10,158.12 535.60,158.18 536.10,158.23 536.60,158.28 537.10,158.33 537.60,158.37 538.10,158.41 538.60,158.44 539.10,158.47 539.60,158.50 540.10,158.53 540.60,158.55 541.10,158.56 541.60,158.58 542.10,158.58" stroke="#ff0000" stroke-width="2.60"/>
<path d="M433.60,85.08 434.10,85.31 434.60,85.52 435.10,85.67 435.60,85.75 436.10,85.74 436.60,85.60 437.10,85.31 437.60,84.85 438.10,84.22 438.60,83.41 439.10,82.44 439.60,81.36 440.10,80.21 440.60,79.05 441.10,77.98 441.60,77.07 442.10,76.40 442.60,76.02 443.10,75.99 443.60,76.33 444.10,77.04 444.60,78.07 445.10,79.39 445.60,80.92 446.10,82.59 446.60,84.34 447.10,86.09 447.60,87.80 448.10,89.41 448.60,90.90 449.10,92.27 449.60,93.50 450.10,94.59 450.60,95.58 451.10,96.46 451.60,97.25 452.10,97.98 452.60,98.64" stroke="#ff0000" stroke-width="1.80"/>
<path d="M489.60,121.79 490.10,121.87 490.60,121.95 491.10,122.04 491.60,122.12 492.10,122.20 492.60,122.27 493.10,122.34 493.60,122.39 494.10,122.42 494.60,122.43 495.10,122.43 495.60,122.39 496.10,122.32 496.60,122.23 497.10,122.09 497.60,121.92 498.10,121.71 498.60,121.46 499.10,121.17 499.60,120.84 500.10,120.47 500.60,120.08 501.10,119.65 501.60,119.20 502.10,118.74 502.60,118.27 503.10,117.80 503.60,117.34 504.10,116.89 504.60,116.48 505.10,116.11 505.60,115.78 506.10,115.51 506.60,115.31 507.10,115.18 507.60,115.15 508.10,115.20 508.60,115.36 509.10,115.64 509.60,116.04 510.10,116.55 510.60,117.13 511.10,117.79 511.60,118.53 512.10,119.33 512.60,120.19 513.10,121.10 513.60,122.06 514.10,123.06 514.60,124.09 515.10,125.14 515.60,126.22 516.10,127.33 516.60,128.46 517.10,129.62 517.60,130.81 518.10,132.04 518.60,133.29 519.10,134.57 519.60,135.85 520.10,137.13 520.60,138.40 521.10,139.65 521.60,140.87 522.10,142.05 522.60,143.18 523.10,144.25 523.60,145.27 524.10,146.24 524.60,147.16 525.10,148.04 525.60,148.89 526.10,149.72 526.60,150.51 527.10,151.27 527.60,152.00 528.10,152.68 528.60,153.32 529.10,153.92 529.60,154.46 530.10,154.95 530.60,155.38 531.10,155.75 531.60,156.07 532.10,156.34 532.60,156.58 533.10,156.79 533.60,156.97 534.10,157.15 534.60,157.30 535.10,157.45 535.60,157.58 536.10,157.71 536.60,157.82 537.10,157.92 537.60,158.01 538.10,158.10 538.60,158.17 539.10,158.24" stroke="#ff0000" stroke-width="2.20"/>
<path d="M443.20,56.60 V84.00" stroke="#ff0000" stroke-width="1.6"/>
<path d="M509.60,74.80 V133.50" stroke="#ff0000" stroke-width="1.6"/>
</g>
<text x="392.00" y="55.10" fill="#111" class="lb">u<tspan class="sb" dx="0.5" dy="3.6">4</tspan></text>
<text x="425.80" y="78.80" fill="#111" class="lb">u<tspan class="sb" dx="0.5" dy="3.6">3</tspan></text>
<text x="439.50" y="52.00" fill="#ff0000" class="lb">u<tspan class="sb" dx="0.5" dy="3.6">2</tspan></text>
<text x="446.00" y="74.90" fill="#111" class="lb">u<tspan class="sb" dx="0.5" dy="3.6">1</tspan></text>
<text x="456.80" y="61.70" fill="#111" class="lb">v<tspan class="sb" dx="0.5" dy="3.6">4</tspan></text>
<text x="495.00" y="111.50" fill="#111" class="lb">v<tspan class="sb" dx="0.5" dy="3.6">3</tspan></text>
<text x="506.80" y="70.30" fill="#ff0000" class="lb">v<tspan class="sb" dx="0.5" dy="3.6">2</tspan></text>
<text x="515.50" y="101.50" fill="#111" class="lb">v<tspan class="sb" dx="0.5" dy="3.6">1</tspan></text>
<rect x="377.30" y="7.90" width="165.70" height="155.30" fill="none" stroke="#111" stroke-width="1.4"/>
<path d="M389.75,163.20 V166.60" stroke="#111" stroke-width="1.2"/>
<text x="389.75" y="175.80" class="tk">920</text>
<path d="M425.35,163.20 V165.20" stroke="#111" stroke-width="1.2"/>
<path d="M460.95,163.20 V166.60" stroke="#111" stroke-width="1.2"/>
<text x="460.95" y="175.80" class="tk">900</text>
<path d="M496.55,163.20 V165.20" stroke="#111" stroke-width="1.2"/>
<path d="M532.15,163.20 V166.60" stroke="#111" stroke-width="1.2"/>
<text x="532.15" y="175.80" class="tk">880</text>
<text x="380.00" y="19.70" class="pl">(c)</text>
<clipPath id="cd"><rect x="41.00" y="186.00" width="165.50" height="155.20"/></clipPath>
<g clip-path="url(#cd)" fill="none" stroke-linejoin="round" stroke-linecap="round">
<path d="M41.80,245.62 42.30,245.24 42.80,245.05 43.30,245.17 43.80,245.03 44.30,244.48 44.80,243.94 45.30,243.60 45.80,243.24 46.30,242.90 46.80,242.52 47.30,241.71 47.80,240.46 48.30,239.06 48.80,237.65 49.30,236.04 49.80,234.29 50.30,232.43 50.80,230.12 51.30,227.20 51.80,223.59 52.30,219.73 52.80,216.47 53.30,213.81 53.80,211.31 54.30,208.87 54.80,206.66 55.30,205.09 55.80,204.44 56.30,204.71 56.80,205.68 57.30,206.78 57.80,207.97 58.30,209.56 58.80,211.14 59.30,212.53 59.80,214.41 60.30,217.27 60.80,221.01 61.30,225.44 61.80,229.52 62.30,232.40 62.80,234.50 63.30,236.49 63.80,238.63 64.30,240.80 64.80,243.02 65.30,245.28 65.80,247.05 66.30,247.97 66.80,248.49 67.30,249.27 67.80,250.45 68.30,251.72 68.80,252.95 69.30,254.12 69.80,254.86 70.30,255.16 70.80,255.80 71.30,256.52 71.80,256.60 72.30,256.36 72.80,256.30 73.30,256.74 73.80,257.87 74.30,258.76 74.80,258.27 75.30,257.02 75.80,256.37 76.30,256.50 76.80,256.55 77.30,256.16 77.80,256.01 78.30,256.15 78.80,255.76 79.30,254.56 79.80,253.21 80.30,252.24 80.80,251.68 81.30,251.54 81.80,251.77 82.30,252.01 82.80,252.29 83.30,252.28 83.80,251.44 84.30,250.41 84.80,249.96 85.30,249.41 85.80,248.36 86.30,247.48 86.80,247.10 87.30,247.03 87.80,246.81 88.30,246.29 88.80,246.30 89.30,247.05 89.80,247.95 90.30,248.71 90.80,249.35 91.30,249.83 91.80,249.96 92.30,249.89 92.80,250.16 93.30,250.58 93.80,250.78 94.30,250.82 94.80,250.90 95.30,251.42 95.80,252.20 96.30,252.77 96.80,253.46 97.30,254.33 97.80,254.35 98.30,253.77 98.80,253.99 99.30,254.58 99.80,254.30 100.30,253.40 100.80,252.58 101.30,252.10 101.80,251.93 102.30,251.95 102.80,251.88 103.30,251.40 103.80,250.89 104.30,250.81 104.80,250.65 105.30,250.01 105.80,248.98 106.30,247.56 106.80,245.84 107.30,243.77 107.80,241.23 108.30,238.22 108.80,235.12 109.30,232.35 109.80,230.01 110.30,228.02 110.80,226.31 111.30,224.55 111.80,223.12 112.30,222.80 112.80,223.65 113.30,225.24 113.80,227.01 114.30,228.22 114.80,228.12 115.30,227.07 115.80,225.69 116.30,224.21 116.80,222.84 117.30,221.22 117.80,219.08 118.30,217.18 118.80,215.98 119.30,215.05 119.80,213.95 120.30,213.34 120.80,214.02 121.30,215.64 121.80,217.25 122.30,219.18 122.80,222.49 123.30,226.78 123.80,230.97 124.30,235.21 124.80,239.56 125.30,243.83 125.80,248.20 126.30,252.48 126.80,256.13 127.30,259.35 127.80,262.95 128.30,266.99 128.80,270.59 129.30,272.84 129.80,273.96 130.30,275.06 130.80,276.75 131.30,279.12 131.80,281.56 132.30,283.36 132.80,284.76 133.30,286.40 133.80,288.18 134.30,289.58 134.80,290.42 135.30,290.98 135.80,291.89 136.30,293.63 136.80,295.18 137.30,295.86 137.80,296.46 138.30,297.06 138.80,297.26 139.30,297.39 139.80,297.77 140.30,298.05 140.80,297.86 141.30,297.56 141.80,297.57 142.30,297.72 142.80,298.03 143.30,298.54 143.80,298.93 144.30,298.92 144.80,298.80 145.30,298.89 145.80,298.62 146.30,297.24 146.80,294.97 147.30,292.60 147.80,290.61 148.30,288.86 148.80,287.25 149.30,285.96 149.80,284.67 150.30,283.14 150.80,281.74 151.30,281.05 151.80,280.96 152.30,280.82 152.80,280.10 153.30,278.95 153.80,277.94 154.30,277.52 154.80,277.68 155.30,278.17 155.80,278.82 156.30,279.04 156.80,278.39 157.30,277.56 157.80,277.33 158.30,277.83 158.80,279.09 159.30,280.48 159.80,281.13 160.30,281.51 160.80,282.25 161.30,282.61 161.80,282.13 162.30,281.57 162.80,281.54 163.30,281.89 163.80,282.30 164.30,282.55 164.80,282.55 165.30,282.28 165.80,281.62 166.30,280.45 166.80,279.39 167.30,279.09 167.80,279.18 168.30,279.15 168.80,278.86 169.30,278.32 169.80,278.05 170.30,278.09 170.80,277.67 171.30,276.75 171.80,275.63 172.30,274.03 172.80,271.39 173.30,267.43 173.80,262.92 174.30,258.42 174.80,254.72 175.30,252.03 175.80,249.52 176.30,246.95 176.80,245.36 177.30,244.96 177.80,244.98 178.30,245.78 178.80,247.69 179.30,249.91 179.80,252.10 180.30,254.43 180.80,256.88 181.30,259.81 181.80,263.39 182.30,267.07 182.80,270.73 183.30,275.00 183.80,280.07 184.30,285.14 184.80,289.57 185.30,293.61 185.80,297.47 186.30,301.43 186.80,305.71 187.30,309.87 187.80,313.36 188.30,316.02 188.80,318.32 189.30,320.80 189.80,323.47 190.30,325.91 190.80,327.85 191.30,329.33 191.80,330.53 192.30,331.12 192.80,330.85 193.30,330.41 193.80,330.73 194.30,332.09 194.80,333.84 195.30,335.19 195.80,336.31 196.30,337.30 196.80,337.84 197.30,337.71 197.80,337.21 198.30,336.95 198.80,337.02 199.30,337.10 199.80,337.25 200.30,337.60 200.80,337.66 201.30,337.27 201.80,337.09 202.30,337.36 202.80,337.89 203.30,338.30 203.80,338.29 204.30,337.96 204.80,337.73 205.30,337.77 205.80,337.76" stroke="#000" stroke-width="2.00"/>
<path d="M41.80,244.64 42.30,244.60 42.80,244.56 43.30,244.50 43.80,244.42 44.30,244.31 44.80,244.13 45.30,243.88 45.80,243.53 46.30,243.05 46.80,242.42 47.30,241.60 47.80,240.55 48.30,239.25 48.80,237.68 49.30,235.82 49.80,233.67 50.30,231.24 50.80,228.56 51.30,225.67 51.80,222.65 52.30,219.58 52.80,216.55 53.30,213.68 53.80,211.11 54.30,208.96 54.80,207.36 55.30,206.42 55.80,206.22 56.30,206.71 56.80,207.72 57.30,209.20 57.80,211.12 58.30,213.39 58.80,215.97 59.30,218.76 59.80,221.70 60.30,224.72 60.80,227.76 61.30,230.76 61.80,233.67 62.30,236.45 62.80,239.06 63.30,241.49 63.80,243.72 64.30,245.74 64.80,247.54 65.30,249.15 65.80,250.55 66.30,251.78 66.80,252.83 67.30,253.73 67.80,254.50 68.30,255.15 68.80,255.70 69.30,256.16 69.80,256.55 70.30,256.89 70.80,257.18 71.30,257.43 71.80,257.66 72.30,257.86 72.80,258.04 73.30,258.20 73.80,258.35 74.30,258.49 74.80,258.62 75.30,258.75 75.80,258.86 76.30,258.97 76.80,259.07 77.30,259.17 77.80,259.26 78.30,259.35 78.80,259.43 79.30,259.50 79.80,259.57 80.30,259.63 80.80,259.69 81.30,259.75 81.80,259.80 82.30,259.85 82.80,259.89 83.30,259.94 83.80,259.98 84.30,260.03" stroke="#ff00ff" stroke-width="1.20"/>
<path d="M70.30,257.93 70.80,258.01 71.30,258.07 71.80,258.12 72.30,258.14 72.80,258.14 73.30,258.12 73.80,258.08 74.30,258.00 74.80,257.90 75.30,257.76 75.80,257.59 76.30,257.38 76.80,257.14 77.30,256.86 77.80,256.54 78.30,256.18 78.80,255.79 79.30,255.36 79.80,254.89 80.30,254.40 80.80,253.88 81.30,253.34 81.80,252.79 82.30,252.23 82.80,251.68 83.30,251.13 83.80,250.61 84.30,250.12 84.80,249.66 85.30,249.25 85.80,248.90 86.30,248.61 86.80,248.39 87.30,248.25 87.80,248.19 88.30,248.21 88.80,248.33 89.30,248.54 89.80,248.83 90.30,249.22 90.80,249.70 91.30,250.25 91.80,250.86 92.30,251.54 92.80,252.27 93.30,253.04 93.80,253.85 94.30,254.67 94.80,255.50 95.30,256.34 95.80,257.17 96.30,257.99 96.80,258.78 97.30,259.55 97.80,260.29 98.30,261.00 98.80,261.67 99.30,262.30 99.80,262.91 100.30,263.48 100.80,264.02 101.30,264.53 101.80,265.02 102.30,265.49 102.80,265.93 103.30,266.37 103.80,266.79 104.30,267.21 104.80,267.62 105.30,268.04 105.80,268.46 106.30,268.89" stroke="#0a8a0a" stroke-width="1.20"/>
<path d="M102.30,266.50 102.80,266.65 103.30,266.72 103.80,266.68 104.30,266.47 104.80,266.03 105.30,265.29 105.80,264.19 106.30,262.70 106.80,260.81 107.30,258.58 107.80,256.12 108.30,253.62 108.80,251.30 109.30,249.44 109.80,248.25 110.30,247.92 110.80,248.56 111.30,250.14 111.80,252.57 112.30,255.64 112.80,259.11 113.30,262.72 113.80,266.25 114.30,269.51 114.80,272.40 115.30,274.87 115.80,276.93 116.30,278.62 116.80,280.01 117.30,281.17 117.80,282.15 118.30,283.03" stroke="#a030f0" stroke-width="1.20"/>
<path d="M105.30,268.16 105.80,268.40 106.30,268.63 106.80,268.82 107.30,268.97 107.80,269.05 108.30,269.03 108.80,268.90 109.30,268.62 109.80,268.15 110.30,267.46 110.80,266.52 111.30,265.28 111.80,263.73 112.30,261.84 112.80,259.58 113.30,256.96 113.80,253.97 114.30,250.63 114.80,246.97 115.30,243.06 115.80,238.96 116.30,234.77 116.80,230.60 117.30,226.57 117.80,222.82 118.30,219.47 118.80,216.67 119.30,214.50 119.80,213.08 120.30,212.47 120.80,212.71 121.30,213.70 121.80,215.30 122.30,217.50 122.80,220.25 123.30,223.51 123.80,227.21 124.30,231.29 124.80,235.65 125.30,240.21 125.80,244.89 126.30,249.59 126.80,254.24 127.30,258.76 127.80,263.08 128.30,267.17 128.80,270.98 129.30,274.49 129.80,277.70 130.30,280.60 130.80,283.20 131.30,285.51 131.80,287.54 132.30,289.30 132.80,290.82 133.30,292.12 133.80,293.23 134.30,294.16 134.80,294.93 135.30,295.58 135.80,296.11 136.30,296.55 136.80,296.91 137.30,297.21 137.80,297.45 138.30,297.65 138.80,297.81 139.30,297.94" stroke="#8a10a8" stroke-width="1.20"/>
<path d="M143.30,298.35 143.80,298.32 144.30,298.26 144.80,298.17 145.30,298.03 145.80,297.84 146.30,297.59 146.80,297.25 147.30,296.83 147.80,296.31 148.30,295.68 148.80,294.93 149.30,294.07 149.80,293.09 150.30,292.01 150.80,290.83 151.30,289.57 151.80,288.27 152.30,286.97 152.80,285.69 153.30,284.49 153.80,283.41 154.30,282.51 154.80,281.82 155.30,281.37 155.80,281.20 156.30,281.32 156.80,281.83 157.30,282.78 157.80,284.13 158.30,285.83 158.80,287.77 159.30,289.89 159.80,292.07 160.30,294.25 160.80,296.35 161.30,298.32 161.80,300.11 162.30,301.71 162.80,303.12 163.30,304.34 163.80,305.39 164.30,306.29 164.80,307.07 165.30,307.75 165.80,308.36 166.30,308.91 166.80,309.42" stroke="#a01818" stroke-width="1.20"/>
<path d="M161.30,305.29 161.80,305.52 162.30,305.72 162.80,305.89 163.30,306.01 163.80,306.07 164.30,306.05 164.80,305.92 165.30,305.67 165.80,305.27 166.30,304.70 166.80,303.91 167.30,302.90 167.80,301.63 168.30,300.07 168.80,298.22 169.30,296.06 169.80,293.59 170.30,290.82 170.80,287.77 171.30,284.47 171.80,280.97 172.30,277.34 172.80,273.63 173.30,269.95 173.80,266.37 174.30,263.01 174.80,259.96 175.30,257.32 175.80,255.19 176.30,253.65 176.80,252.77 177.30,252.60 177.80,253.16 178.30,254.34 178.80,256.12 179.30,258.47 179.80,261.32 180.30,264.63 180.80,268.33 181.30,272.34 181.80,276.57 182.30,280.96 182.80,285.41 183.30,289.86 183.80,294.24 184.30,298.48 184.80,302.55 185.30,306.41 185.80,310.03 186.30,313.40 186.80,316.49 187.30,319.31 187.80,321.84 188.30,324.11 188.80,326.11 189.30,327.86 189.80,329.38 190.30,330.68 190.80,331.79 191.30,332.71 191.80,333.48 192.30,334.12 192.80,334.64 193.30,335.08 193.80,335.45 194.30,335.76 194.80,336.02 195.30,336.25 195.80,336.45" stroke="#a0a020" stroke-width="1.20"/>
<path d="M41.80,245.34 42.30,245.37 42.80,245.43 43.30,245.50 43.80,245.58 44.30,245.67 44.80,245.78 45.30,245.89 45.80,246.02 46.30,246.15 46.80,246.29 47.30,246.43 47.80,246.59 48.30,246.75 48.80,246.91 49.30,247.08 49.80,247.27 50.30,247.47 50.80,247.69 51.30,247.92 51.80,248.18 52.30,248.46 52.80,248.75 53.30,249.05 53.80,249.37 54.30,249.70 54.80,250.03 55.30,250.37 55.80,250.71 56.30,251.04 56.80,251.38 57.30,251.71 57.80,252.03 58.30,252.34 58.80,252.64 59.30,252.93 59.80,253.22 60.30,253.50 60.80,253.79 61.30,254.07 61.80,254.35 62.30,254.64 62.80,254.92 63.30,255.20 63.80,255.47 64.30,255.74 64.80,256.01 65.30,256.26 65.80,256.51 66.30,256.74 66.80,256.96 67.30,257.17 67.80,257.37 68.30,257.55 68.80,257.71 69.30,257.87 69.80,258.02 70.30,258.15 70.80,258.29 71.30,258.41 71.80,258.54 72.30,258.65 72.80,258.77 73.30,258.88 73.80,258.98 74.30,259.08 74.80,259.18 75.30,259.27 75.80,259.36 76.30,259.44 76.80,259.52 77.30,259.60 77.80,259.67 78.30,259.74 78.80,259.80 79.30,259.86 79.80,259.92 80.30,259.97 80.80,260.01 81.30,260.05 81.80,260.09 82.30,260.13 82.80,260.17 83.30,260.20 83.80,260.24 84.30,260.28 84.80,260.32 85.30,260.36 85.80,260.40 86.30,260.45 86.80,260.51 87.30,260.57 87.80,260.63 88.30,260.71 88.80,260.80 89.30,260.91 89.80,261.04 90.30,261.18 90.80,261.34 91.30,261.51 91.80,261.70 92.30,261.91 92.80,262.12 93.30,262.34 93.80,262.57 94.30,262.81 94.80,263.05 95.30,263.29 95.80,263.54 96.30,263.78 96.80,264.02 97.30,264.26 97.80,264.50 98.30,264.73 98.80,264.96 99.30,265.19 99.80,265.43 100.30,265.66 100.80,265.90 101.30,266.14 101.80,266.39 102.30,266.64 102.80,266.91 103.30,267.18 103.80,267.46 104.30,267.76 104.80,268.08 105.30,268.41 105.80,268.76 106.30,269.13 106.80,269.52 107.30,269.94 107.80,270.38 108.30,270.84 108.80,271.32 109.30,271.81 109.80,272.32 110.30,272.85 110.80,273.39 111.30,273.94 111.80,274.52 112.30,275.12 112.80,275.74 113.30,276.39 113.80,277.05 114.30,277.73 114.80,278.42 115.30,279.11 115.80,279.81 116.30,280.50 116.80,281.19 117.30,281.88 117.80,282.57 118.30,283.26 118.80,283.95 119.30,284.65 119.80,285.34 120.30,286.03 120.80,286.71 121.30,287.37 121.80,288.02 122.30,288.65 122.80,289.26 123.30,289.86 123.80,290.45 124.30,291.03 124.80,291.61 125.30,292.17 125.80,292.71 126.30,293.23 126.80,293.70 127.30,294.14 127.80,294.53 128.30,294.88 128.80,295.18 129.30,295.45 129.80,295.69 130.30,295.91 130.80,296.11 131.30,296.30 131.80,296.48 132.30,296.65 132.80,296.81 133.30,296.96 133.80,297.09 134.30,297.22 134.80,297.35 135.30,297.46 135.80,297.57 136.30,297.67 136.80,297.76 137.30,297.84 137.80,297.92 138.30,298.00 138.80,298.06 139.30,298.13 139.80,298.19 140.30,298.24 140.80,298.29 141.30,298.35 141.80,298.39 142.30,298.44 142.80,298.49 143.30,298.55 143.80,298.60 144.30,298.65 144.80,298.71 145.30,298.78 145.80,298.84 146.30,298.92 146.80,299.00 147.30,299.08 147.80,299.18 148.30,299.29 148.80,299.41 149.30,299.55 149.80,299.70 150.30,299.86 150.80,300.03 151.30,300.22 151.80,300.42 152.30,300.63 152.80,300.86 153.30,301.09 153.80,301.33 154.30,301.57 154.80,301.83 155.30,302.09 155.80,302.35 156.30,302.62 156.80,302.90 157.30,303.18 157.80,303.46 158.30,303.74 158.80,304.02 159.30,304.31 159.80,304.60 160.30,304.90 160.80,305.21 161.30,305.53 161.80,305.85 162.30,306.19 162.80,306.53 163.30,306.89 163.80,307.25 164.30,307.62 164.80,308.00 165.30,308.39 165.80,308.78 166.30,309.19 166.80,309.60 167.30,310.02 167.80,310.46 168.30,310.90 168.80,311.35 169.30,311.81 169.80,312.29 170.30,312.79 170.80,313.31 171.30,313.84 171.80,314.39 172.30,314.96 172.80,315.53 173.30,316.12 173.80,316.71 174.30,317.31 174.80,317.91 175.30,318.51 175.80,319.12 176.30,319.73 176.80,320.34 177.30,320.97 177.80,321.61 178.30,322.26 178.80,322.92 179.30,323.59 179.80,324.27 180.30,324.94 180.80,325.61 181.30,326.27 181.80,326.91 182.30,327.54 182.80,328.13 183.30,328.70 183.80,329.24 184.30,329.76 184.80,330.25 185.30,330.73 185.80,331.20 186.30,331.66 186.80,332.11 187.30,332.55 187.80,332.98 188.30,333.38 188.80,333.77 189.30,334.13 189.80,334.47 190.30,334.78 190.80,335.05 191.30,335.29 191.80,335.51 192.30,335.69 192.80,335.85 193.30,336.00 193.80,336.15 194.30,336.28 194.80,336.41 195.30,336.54 195.80,336.66 196.30,336.78 196.80,336.90 197.30,337.01 197.80,337.11 198.30,337.21 198.80,337.31 199.30,337.40 199.80,337.48 200.30,337.56 200.80,337.63 201.30,337.70 201.80,337.76 202.30,337.81 202.80,337.86 203.30,337.90 203.80,337.93 204.30,337.95 204.80,337.97 205.30,337.99 205.80,337.99" stroke="#ff0000" stroke-width="2.60"/>
<path d="M97.80,264.31 98.30,264.40 98.80,264.41 99.30,264.30 99.80,264.05 100.30,263.61 100.80,262.97 101.30,262.11 101.80,261.05 102.30,259.84 102.80,258.56 103.30,257.33 103.80,256.29 104.30,255.55 104.80,255.23 105.30,255.42 105.80,256.11 106.30,257.28 106.80,258.85 107.30,260.68 107.80,262.65 108.30,264.64 108.80,266.52 109.30,268.25 109.80,269.77 110.30,271.09 110.80,272.22 111.30,273.20 111.80,274.07 112.30,274.85 112.80,275.59" stroke="#ff0000" stroke-width="1.80"/>
<path d="M156.80,302.70 157.30,302.83 157.80,302.89 158.30,302.83 158.80,302.61 159.30,302.20 159.80,301.56 160.30,300.64 160.80,299.45 161.30,298.01 161.80,296.35 162.30,294.59 162.80,292.84 163.30,291.26 163.80,290.01 164.30,289.24 164.80,289.05 165.30,289.50 165.80,290.59 166.30,292.24 166.80,294.34 167.30,296.74 167.80,299.28 168.30,301.80 168.80,304.20 169.30,306.38 169.80,308.30 170.30,309.95 170.80,311.36 171.30,312.55 171.80,313.56 172.30,314.44 172.80,315.22 173.30,315.94" stroke="#ff0000" stroke-width="1.80"/>
<path d="M105.20,235.70 V266.00" stroke="#ff0000" stroke-width="1.6"/>
<path d="M165.00,267.40 V309.00" stroke="#ff0000" stroke-width="1.6"/>
</g>
<text x="52.50" y="232.10" fill="#111" class="lb">u<tspan class="sb" dx="0.5" dy="3.6">4</tspan></text>
<text x="85.40" y="257.00" fill="#111" class="lb">u<tspan class="sb" dx="0.5" dy="3.6">3</tspan></text>
<text x="99.90" y="230.20" fill="#ff0000" class="lb">u<tspan class="sb" dx="0.5" dy="3.6">2</tspan></text>
<text x="107.90" y="252.40" fill="#111" class="lb">u<tspan class="sb" dx="0.5" dy="3.6">1</tspan></text>
<text x="117.00" y="241.40" fill="#111" class="lb">v<tspan class="sb" dx="0.5" dy="3.6">4</tspan></text>
<text x="152.60" y="292.70" fill="#111" class="lb">v<tspan class="sb" dx="0.5" dy="3.6">3</tspan></text>
<text x="163.70" y="264.30" fill="#ff0000" class="lb">v<tspan class="sb" dx="0.5" dy="3.6">2</tspan></text>
<text x="174.60" y="281.30" fill="#111" class="lb">v<tspan class="sb" dx="0.5" dy="3.6">1</tspan></text>
<rect x="41.00" y="186.00" width="165.50" height="155.20" fill="none" stroke="#111" stroke-width="1.4"/>
<path d="M53.60,341.20 V344.60" stroke="#111" stroke-width="1.2"/>
<text x="53.60" y="353.80" class="tk">920</text>
<path d="M89.20,341.20 V343.20" stroke="#111" stroke-width="1.2"/>
<path d="M124.80,341.20 V344.60" stroke="#111" stroke-width="1.2"/>
<text x="124.80" y="353.80" class="tk">900</text>
<path d="M160.40,341.20 V343.20" stroke="#111" stroke-width="1.2"/>
<path d="M196.00,341.20 V344.60" stroke="#111" stroke-width="1.2"/>
<text x="196.00" y="353.80" class="tk">880</text>
<text x="43.70" y="197.70" class="pl">(d)</text>
<clipPath id="ce"><rect x="209.50" y="186.00" width="165.00" height="155.20"/></clipPath>
<g clip-path="url(#ce)" fill="none" stroke-linejoin="round" stroke-linecap="round">
<path d="M210.30,244.46 210.80,243.56 211.30,242.78 211.80,243.16 212.30,244.31 212.80,245.05 213.30,244.87 213.80,244.32 214.30,244.36 214.80,245.10 215.30,245.41 215.80,244.69 216.30,243.77 216.80,243.69 217.30,244.62 217.80,245.34 218.30,245.01 218.80,244.03 219.30,242.84 219.80,241.77 220.30,240.80 220.80,239.61 221.30,238.45 221.80,237.35 222.30,235.76 222.80,233.35 223.30,230.14 223.80,226.52 224.30,223.09 224.80,219.87 225.30,216.25 225.80,212.40 226.30,209.05 226.80,206.27 227.30,203.89 227.80,201.90 228.30,200.56 228.80,200.80 229.30,202.34 229.80,204.27 230.30,206.48 230.80,209.69 231.30,213.44 231.80,216.74 232.30,219.97 232.80,223.30 233.30,226.36 233.80,229.45 234.30,232.92 234.80,236.29 235.30,238.84 235.80,240.75 236.30,242.85 236.80,245.00 237.30,246.37 237.80,247.04 238.30,247.49 238.80,247.60 239.30,247.67 239.80,248.38 240.30,249.23 240.80,249.59 241.30,250.13 241.80,251.54 242.30,253.10 242.80,253.81 243.30,254.09 243.80,254.59 244.30,255.02 244.80,255.54 245.30,256.00 245.80,255.82 246.30,255.13 246.80,254.59 247.30,254.31 247.80,254.05 248.30,254.53 248.80,255.85 249.30,256.56 249.80,256.30 250.30,256.01 250.80,256.39 251.30,256.89 251.80,256.69 252.30,255.86 252.80,254.92 253.30,254.03 253.80,253.25 254.30,252.99 254.80,253.10 255.30,253.01 255.80,252.95 256.30,253.20 256.80,253.33 257.30,252.65 257.80,251.13 258.30,249.18 258.80,247.39 259.30,246.39 259.80,245.83 260.30,244.98 260.80,244.01 261.30,243.46 261.80,243.63 262.30,243.96 262.80,243.95 263.30,243.89 263.80,243.99 264.30,244.49 264.80,245.87 265.30,247.67 265.80,248.46 266.30,247.89 266.80,247.30 267.30,247.36 267.80,247.71 268.30,248.08 268.80,248.27 269.30,248.24 269.80,247.91 270.30,247.20 270.80,246.36 271.30,245.74 271.80,245.37 272.30,245.06 272.80,244.78 273.30,244.61 273.80,244.42 274.30,243.83 274.80,242.90 275.30,242.39 275.80,242.69 276.30,243.46 276.80,243.80 277.30,243.26 277.80,242.35 278.30,241.44 278.80,240.42 279.30,239.07 279.80,237.05 280.30,235.32 280.80,234.15 281.30,231.66 281.80,227.42 282.30,222.91 282.80,219.03 283.30,216.29 283.80,215.59 284.30,217.04 284.80,219.43 285.30,222.82 285.80,226.06 286.30,228.38 286.80,229.27 287.30,228.33 287.80,226.20 288.30,223.82 288.80,221.93 289.30,220.23 289.80,217.98 290.30,215.10 290.80,211.51 291.30,207.67 291.80,204.96 292.30,203.83 292.80,203.46 293.30,204.19 293.80,205.50 294.30,207.07 294.80,209.39 295.30,212.62 295.80,216.64 296.30,221.55 296.80,226.72 297.30,231.43 297.80,235.95 298.30,240.74 298.80,245.94 299.30,251.63 299.80,257.65 300.30,263.47 300.80,268.33 301.30,272.02 301.80,274.78 302.30,277.21 302.80,280.06 303.30,283.35 303.80,286.44 304.30,289.02 304.80,290.98 305.30,292.27 305.80,293.24 306.30,294.40 306.80,295.51 307.30,296.65 307.80,298.44 308.30,299.95 308.80,300.78 309.30,301.41 309.80,301.84 310.30,301.97 310.80,302.02 311.30,302.03 311.80,302.12 312.30,302.41 312.80,302.80 313.30,303.02 313.80,302.97 314.30,303.15 314.80,303.74 315.30,303.83 315.80,303.08 316.30,302.19 316.80,301.72 317.30,301.38 317.80,300.64 318.30,299.95 318.80,299.75 319.30,298.92 319.80,296.87 320.30,294.69 320.80,293.09 321.30,291.89 321.80,290.70 322.30,289.40 322.80,288.43 323.30,287.39 323.80,285.70 324.30,283.86 324.80,282.42 325.30,281.34 325.80,280.24 326.30,278.90 326.80,277.58 327.30,276.55 327.80,275.76 328.30,274.84 328.80,274.17 329.30,274.29 329.80,274.51 330.30,274.40 330.80,274.12 331.30,273.54 331.80,273.40 332.30,273.90 332.80,274.20 333.30,273.94 333.80,273.11 334.30,272.33 334.80,272.28 335.30,272.53 335.80,272.23 336.30,271.42 336.80,270.64 337.30,270.18 337.80,270.16 338.30,270.10 338.80,269.30 339.30,268.39 339.80,268.29 340.30,268.63 340.80,268.53 341.30,267.87 341.80,267.10 342.30,266.32 342.80,265.60 343.30,265.40 343.80,265.30 344.30,264.44 344.80,262.80 345.30,260.54 345.80,257.93 346.30,255.57 346.80,252.81 347.30,249.10 347.80,244.91 348.30,240.66 348.80,236.72 349.30,233.64 349.80,231.85 350.30,231.30 350.80,232.17 351.30,234.56 351.80,237.56 352.30,240.41 352.80,243.46 353.30,247.25 353.80,251.47 354.30,255.70 354.80,260.15 355.30,265.17 355.80,271.00 356.30,277.74 356.80,284.52 357.30,290.73 357.80,296.83 358.30,302.05 358.80,306.12 359.30,309.82 359.80,313.06 360.30,315.25 360.80,316.82 361.30,318.68 361.80,320.79 362.30,322.74 362.80,324.56 363.30,326.32 363.80,327.84 364.30,329.07 364.80,330.19 365.30,331.11 365.80,331.91 366.30,333.02 366.80,333.99 367.30,334.19 367.80,334.03 368.30,334.15 368.80,334.66 369.30,335.43 369.80,335.89 370.30,336.01 370.80,336.35 371.30,336.75 371.80,336.71 372.30,336.38 372.80,336.04 373.30,335.96 373.80,336.07" stroke="#000" stroke-width="2.00"/>
<path d="M210.30,243.97 210.80,243.95 211.30,243.93 211.80,243.91 212.30,243.88 212.80,243.86 213.30,243.83 213.80,243.79 214.30,243.75 214.80,243.71 215.30,243.65 215.80,243.58 216.30,243.50 216.80,243.38 217.30,243.24 217.80,243.06 218.30,242.82 218.80,242.51 219.30,242.10 219.80,241.55 220.30,240.82 220.80,239.86 221.30,238.62 221.80,237.06 222.30,235.15 222.80,232.87 223.30,230.22 223.80,227.24 224.30,223.99 224.80,220.56 225.30,217.07 225.80,213.69 226.30,210.58 226.80,207.94 227.30,205.96 227.80,204.80 228.30,204.58 228.80,205.15 229.30,206.30 229.80,207.99 230.30,210.15 230.80,212.70 231.30,215.54 231.80,218.60 232.30,221.78 232.80,225.00 233.30,228.19 233.80,231.28 234.30,234.21 234.80,236.96 235.30,239.48 235.80,241.76 236.30,243.80 236.80,245.59 237.30,247.14 237.80,248.47 238.30,249.61 238.80,250.56 239.30,251.37 239.80,252.03 240.30,252.59 240.80,253.05 241.30,253.43 241.80,253.75 242.30,254.02 242.80,254.25 243.30,254.44 243.80,254.62 244.30,254.77 244.80,254.91 245.30,255.04 245.80,255.17 246.30,255.28 246.80,255.39 247.30,255.50 247.80,255.60 248.30,255.69 248.80,255.78 249.30,255.87 249.80,255.95 250.30,256.03 250.80,256.10 251.30,256.18 251.80,256.26 252.30,256.34 252.80,256.41 253.30,256.49 253.80,256.58 254.30,256.66 254.80,256.76 255.30,256.85 255.80,256.96" stroke="#ff00ff" stroke-width="1.20"/>
<path d="M245.30,255.44 245.80,255.46 246.30,255.47 246.80,255.46 247.30,255.43 247.80,255.37 248.30,255.29 248.80,255.18 249.30,255.04 249.80,254.86 250.30,254.64 250.80,254.39 251.30,254.10 251.80,253.77 252.30,253.40 252.80,252.99 253.30,252.55 253.80,252.07 254.30,251.56 254.80,251.02 255.30,250.47 255.80,249.91 256.30,249.35 256.80,248.80 257.30,248.28 257.80,247.78 258.30,247.33 258.80,246.93 259.30,246.59 259.80,246.32 260.30,246.13 260.80,246.02 261.30,246.00 261.80,246.08 262.30,246.25 262.80,246.51 263.30,246.86 263.80,247.30 264.30,247.83 264.80,248.43 265.30,249.09 265.80,249.82 266.30,250.60 266.80,251.42 267.30,252.27 267.80,253.14 268.30,254.02 268.80,254.90 269.30,255.78 269.80,256.63 270.30,257.46 270.80,258.26 271.30,259.03 271.80,259.76 272.30,260.45 272.80,261.10 273.30,261.71 273.80,262.28 274.30,262.81 274.80,263.30 275.30,263.75 275.80,264.17 276.30,264.55 276.80,264.91 277.30,265.25 277.80,265.57 278.30,265.88 278.80,266.18 279.30,266.48" stroke="#0a8a0a" stroke-width="1.20"/>
<path d="M275.30,264.68 275.80,264.71 276.30,264.61 276.80,264.31 277.30,263.71 277.80,262.71 278.30,261.20 278.80,259.05 279.30,256.19 279.80,252.60 280.30,248.37 280.80,243.67 281.30,238.81 281.80,234.19 282.30,230.26 282.80,227.45 283.30,226.11 283.80,226.39 284.30,227.87 284.80,230.34 285.30,233.69 285.80,237.72 286.30,242.21 286.80,246.94 287.30,251.70 287.80,256.31 288.30,260.64 288.80,264.59 289.30,268.13 289.80,271.23 290.30,273.90 290.80,276.20 291.30,278.16 291.80,279.83 292.30,281.28 292.80,282.54 293.30,283.66 293.80,284.69 294.30,285.66" stroke="#a030f0" stroke-width="1.20"/>
<path d="M278.80,266.21 279.30,266.34 279.80,266.43 280.30,266.46 280.80,266.42 281.30,266.28 281.80,266.01 282.30,265.58 282.80,264.94 283.30,264.05 283.80,262.85 284.30,261.30 284.80,259.33 285.30,256.91 285.80,254.01 286.30,250.62 286.80,246.76 287.30,242.48 287.80,237.86 288.30,233.01 288.80,228.09 289.30,223.26 289.80,218.71 290.30,214.63 290.80,211.19 291.30,208.57 291.80,206.90 292.30,206.30 292.80,206.80 293.30,208.13 293.80,210.14 294.30,212.79 294.80,216.05 295.30,219.86 295.80,224.13 296.30,228.75 296.80,233.64 297.30,238.67 297.80,243.75 298.30,248.77 298.80,253.65 299.30,258.32 299.80,262.74 300.30,266.88 300.80,270.71 301.30,274.23 301.80,277.43 302.30,280.31 302.80,282.87 303.30,285.13 303.80,287.08 304.30,288.76 304.80,290.19 305.30,291.39 305.80,292.37 306.30,293.18 306.80,293.82 307.30,294.32 307.80,294.71 308.30,295.00 308.80,295.21 309.30,295.35 309.80,295.45 310.30,295.50 310.80,295.53" stroke="#8a10a8" stroke-width="1.20"/>
<path d="M315.80,295.26 316.30,295.20 316.80,295.12 317.30,295.02 317.80,294.87 318.30,294.68 318.80,294.42 319.30,294.08 319.80,293.65 320.30,293.11 320.80,292.47 321.30,291.70 321.80,290.80 322.30,289.79 322.80,288.65 323.30,287.41 323.80,286.09 324.30,284.70 324.80,283.28 325.30,281.89 325.80,280.55 326.30,279.33 326.80,278.26 327.30,277.41 327.80,276.80 328.30,276.47 328.80,276.44 329.30,276.73 329.80,277.32 330.30,278.22 330.80,279.40 331.30,280.81 331.80,282.43 332.30,284.20 332.80,286.08 333.30,288.02 333.80,289.97 334.30,291.88 334.80,293.73 335.30,295.48 335.80,297.12 336.30,298.63 336.80,300.01 337.30,301.26 337.80,302.38 338.30,303.39 338.80,304.29 339.30,305.10 339.80,305.83 340.30,306.50 340.80,307.11 341.30,307.68 341.80,308.23" stroke="#a01818" stroke-width="1.20"/>
<path d="M312.30,295.33 312.80,295.28 313.30,295.23 313.80,295.19 314.30,295.16 314.80,295.14 315.30,295.13 315.80,295.14 316.30,295.15 316.80,295.17 317.30,295.20 317.80,295.23 318.30,295.27 318.80,295.32 319.30,295.37 319.80,295.42 320.30,295.48 320.80,295.55 321.30,295.63 321.80,295.72 322.30,295.82 322.80,295.94 323.30,296.07 323.80,296.22 324.30,296.37 324.80,296.54 325.30,296.72 325.80,296.91 326.30,297.10 326.80,297.31 327.30,297.52 327.80,297.73 328.30,297.95 328.80,298.16 329.30,298.38 329.80,298.61 330.30,298.83 330.80,299.05 331.30,299.28 331.80,299.51 332.30,299.75 332.80,299.99 333.30,300.22 333.80,300.46 334.30,300.68 334.80,300.87 335.30,301.04 335.80,301.15 336.30,301.21 336.80,301.18 337.30,301.05 337.80,300.79 338.30,300.37 338.80,299.77 339.30,298.94 339.80,297.86 340.30,296.49 340.80,294.81 341.30,292.79 341.80,290.41 342.30,287.66 342.80,284.55 343.30,281.09 343.80,277.31 344.30,273.26 344.80,269.01 345.30,264.63 345.80,260.23 346.30,255.92 346.80,251.84 347.30,248.14 347.80,244.96 348.30,242.47 348.80,240.78 349.30,240.00 349.80,240.20 350.30,241.32 350.80,243.07 351.30,245.37 351.80,248.18 352.30,251.43 352.80,255.03 353.30,258.94 353.80,263.07 354.30,267.39 354.80,271.84 355.30,276.37 355.80,280.91 356.30,285.43 356.80,289.86 357.30,294.17 357.80,298.30 358.30,302.23 358.80,305.93 359.30,309.37 359.80,312.56 360.30,315.47 360.80,318.11 361.30,320.48 361.80,322.59 362.30,324.47 362.80,326.13 363.30,327.60 363.80,328.89 364.30,330.03 364.80,331.02 365.30,331.88 365.80,332.64 366.30,333.29 366.80,333.87 367.30,334.36 367.80,334.79 368.30,335.17 368.80,335.50 369.30,335.79 369.80,336.04 370.30,336.26 370.80,336.45 371.30,336.62 371.80,336.77 372.30,336.90 372.80,337.01 373.30,337.10 373.80,337.17" stroke="#2f7ab8" stroke-width="1.20"/>
<path d="M210.30,244.30 210.80,244.30 211.30,244.30 211.80,244.30 212.30,244.30 212.80,244.30 213.30,244.30 213.80,244.30 214.30,244.30 214.80,244.30 215.30,244.30 215.80,244.30 216.30,244.30 216.80,244.31 217.30,244.32 217.80,244.35 218.30,244.41 218.80,244.49 219.30,244.61 219.80,244.77 220.30,244.95 220.80,245.17 221.30,245.42 221.80,245.68 222.30,245.97 222.80,246.27 223.30,246.58 223.80,246.90 224.30,247.22 224.80,247.54 225.30,247.86 225.80,248.17 226.30,248.47 226.80,248.76 227.30,249.03 227.80,249.31 228.30,249.58 228.80,249.86 229.30,250.14 229.80,250.42 230.30,250.71 230.80,251.00 231.30,251.29 231.80,251.58 232.30,251.86 232.80,252.13 233.30,252.40 233.80,252.66 234.30,252.91 234.80,253.14 235.30,253.36 235.80,253.56 236.30,253.74 236.80,253.91 237.30,254.06 237.80,254.20 238.30,254.33 238.80,254.45 239.30,254.57 239.80,254.68 240.30,254.79 240.80,254.89 241.30,254.98 241.80,255.08 242.30,255.17 242.80,255.26 243.30,255.34 243.80,255.42 244.30,255.51 244.80,255.59 245.30,255.67 245.80,255.75 246.30,255.83 246.80,255.91 247.30,255.99 247.80,256.06 248.30,256.14 248.80,256.20 249.30,256.27 249.80,256.33 250.30,256.40 250.80,256.46 251.30,256.52 251.80,256.58 252.30,256.65 252.80,256.72 253.30,256.78 253.80,256.86 254.30,256.93 254.80,257.02 255.30,257.10 255.80,257.20 256.30,257.30 256.80,257.41 257.30,257.53 257.80,257.67 258.30,257.81 258.80,257.96 259.30,258.13 259.80,258.30 260.30,258.48 260.80,258.66 261.30,258.85 261.80,259.05 262.30,259.25 262.80,259.44 263.30,259.64 263.80,259.84 264.30,260.04 264.80,260.24 265.30,260.44 265.80,260.65 266.30,260.85 266.80,261.06 267.30,261.27 267.80,261.49 268.30,261.70 268.80,261.92 269.30,262.15 269.80,262.37 270.30,262.60 270.80,262.83 271.30,263.06 271.80,263.29 272.30,263.52 272.80,263.75 273.30,263.98 273.80,264.22 274.30,264.45 274.80,264.67 275.30,264.90 275.80,265.12 276.30,265.33 276.80,265.55 277.30,265.76 277.80,265.98 278.30,266.21 278.80,266.44 279.30,266.68 279.80,266.94 280.30,267.21 280.80,267.50 281.30,267.82 281.80,268.16 282.30,268.53 282.80,268.95 283.30,269.41 283.80,269.91 284.30,270.45 284.80,271.03 285.30,271.64 285.80,272.28 286.30,272.93 286.80,273.61 287.30,274.30 287.80,275.01 288.30,275.74 288.80,276.50 289.30,277.29 289.80,278.11 290.30,278.96 290.80,279.82 291.30,280.69 291.80,281.56 292.30,282.43 292.80,283.29 293.30,284.14 293.80,284.99 294.30,285.84 294.80,286.71 295.30,287.58 295.80,288.45 296.30,289.31 296.80,290.14 297.30,290.91 297.80,291.61 298.30,292.23 298.80,292.76 299.30,293.20 299.80,293.56 300.30,293.87 300.80,294.14 301.30,294.39 301.80,294.62 302.30,294.83 302.80,295.03 303.30,295.21 303.80,295.38 304.30,295.52 304.80,295.65 305.30,295.76 305.80,295.84 306.30,295.90 306.80,295.94 307.30,295.96 307.80,295.96 308.30,295.95 308.80,295.92 309.30,295.88 309.80,295.84 310.30,295.79 310.80,295.74 311.30,295.68 311.80,295.63 312.30,295.58 312.80,295.53 313.30,295.49 313.80,295.46 314.30,295.44 314.80,295.43 315.30,295.42 315.80,295.43 316.30,295.45 316.80,295.48 317.30,295.52 317.80,295.57 318.30,295.62 318.80,295.67 319.30,295.73 319.80,295.80 320.30,295.87 320.80,295.95 321.30,296.04 321.80,296.15 322.30,296.27 322.80,296.40 323.30,296.55 323.80,296.72 324.30,296.89 324.80,297.08 325.30,297.28 325.80,297.49 326.30,297.71 326.80,297.94 327.30,298.17 327.80,298.41 328.30,298.66 328.80,298.91 329.30,299.17 329.80,299.43 330.30,299.69 330.80,299.96 331.30,300.24 331.80,300.54 332.30,300.84 332.80,301.16 333.30,301.50 333.80,301.85 334.30,302.21 334.80,302.58 335.30,302.97 335.80,303.36 336.30,303.76 336.80,304.17 337.30,304.59 337.80,305.01 338.30,305.43 338.80,305.86 339.30,306.29 339.80,306.72 340.30,307.15 340.80,307.58 341.30,308.02 341.80,308.47 342.30,308.92 342.80,309.39 343.30,309.87 343.80,310.36 344.30,310.87 344.80,311.40 345.30,311.96 345.80,312.54 346.30,313.15 346.80,313.80 347.30,314.51 347.80,315.28 348.30,316.13 348.80,317.06 349.30,318.07 349.80,319.12 350.30,320.21 350.80,321.31 351.30,322.39 351.80,323.44 352.30,324.43 352.80,325.35 353.30,326.19 353.80,326.97 354.30,327.69 354.80,328.37 355.30,329.03 355.80,329.66 356.30,330.28 356.80,330.87 357.30,331.44 357.80,331.98 358.30,332.49 358.80,332.97 359.30,333.42 359.80,333.82 360.30,334.19 360.80,334.51 361.30,334.79 361.80,335.05 362.30,335.27 362.80,335.48 363.30,335.67 363.80,335.86 364.30,336.04 364.80,336.21 365.30,336.38 365.80,336.55 366.30,336.71 366.80,336.86 367.30,337.00 367.80,337.14 368.30,337.27 368.80,337.39 369.30,337.51 369.80,337.62 370.30,337.72 370.80,337.81 371.30,337.89 371.80,337.96 372.30,338.02 372.80,338.07 373.30,338.11 373.80,338.14" stroke="#ff0000" stroke-width="2.50"/>
<path d="M210.30,244.30 210.80,244.30 211.30,244.30 211.80,244.30 212.30,244.30 212.80,244.30 213.30,244.30 213.80,244.30 214.30,244.30 214.80,244.30 215.30,244.30 215.80,244.30 216.30,244.30 216.80,244.31 217.30,244.32 217.80,244.35 218.30,244.41 218.80,244.49 219.30,244.61 219.80,244.77 220.30,244.95 220.80,245.17 221.30,245.42 221.80,245.68 222.30,245.97 222.80,246.27 223.30,246.58 223.80,246.90 224.30,247.22 224.80,247.54 225.30,247.86 225.80,248.17 226.30,248.47 226.80,248.76 227.30,249.03 227.80,249.31 228.30,249.58 228.80,249.86 229.30,250.14 229.80,250.42 230.30,250.71 230.80,251.00 231.30,251.29 231.80,251.58 232.30,251.86 232.80,252.13 233.30,252.40 233.80,252.66 234.30,252.91 234.80,253.14 235.30,253.36 235.80,253.56 236.30,253.74 236.80,253.91 237.30,254.06 237.80,254.20 238.30,254.33 238.80,254.45 239.30,254.57 239.80,254.68 240.30,254.79 240.80,254.89 241.30,254.98 241.80,255.08 242.30,255.17 242.80,255.26 243.30,255.34 243.80,255.42 244.30,255.51 244.80,255.59 245.30,255.67 245.80,255.75 246.30,255.83 246.80,255.91 247.30,255.99 247.80,256.06 248.30,256.14 248.80,256.20 249.30,256.27 249.80,256.33 250.30,256.40 250.80,256.46 251.30,256.52 251.80,256.58 252.30,256.65 252.80,256.72 253.30,256.78 253.80,256.86 254.30,256.93 254.80,257.02 255.30,257.10 255.80,257.20 256.30,257.30 256.80,257.41 257.30,257.53 257.80,257.67 258.30,257.81 258.80,257.96 259.30,258.13 259.80,258.30 260.30,258.48 260.80,258.66 261.30,258.85 261.80,259.05 262.30,259.25 262.80,259.44 263.30,259.64 263.80,259.84 264.30,260.04 264.80,260.24 265.30,260.44 265.80,260.65 266.30,260.85 266.80,261.06 267.30,261.27 267.80,261.49 268.30,261.70 268.80,261.92 269.30,262.15 269.80,262.37 270.30,262.60 270.80,262.83 271.30,263.06 271.80,263.29 272.30,263.52 272.80,263.75 273.30,263.98 273.80,264.22 274.30,264.45 274.80,264.67 275.30,264.90 275.80,265.12 276.30,265.33 276.80,265.55 277.30,265.76 277.80,265.98 278.30,266.21 278.80,266.44 279.30,266.68 279.80,266.94 280.30,267.21 280.80,267.50 281.30,267.82 281.80,268.16 282.30,268.53 282.80,268.95 283.30,269.41 283.80,269.91 284.30,270.45 284.80,271.03 285.30,271.64 285.80,272.28 286.30,272.93 286.80,273.61 287.30,274.30 287.80,275.01 288.30,275.74 288.80,276.50 289.30,277.29 289.80,278.11 290.30,278.96 290.80,279.82 291.30,280.69 291.80,281.56 292.30,282.43 292.80,283.29 293.30,284.14 293.80,284.99 294.30,285.84 294.80,286.71 295.30,287.58 295.80,288.45 296.30,289.31 296.80,290.14 297.30,290.91 297.80,291.61 298.30,292.23 298.80,292.76 299.30,293.20 299.80,293.56 300.30,293.87 300.80,294.14 301.30,294.39 301.80,294.62 302.30,294.83 302.80,295.03 303.30,295.21 303.80,295.38 304.30,295.52 304.80,295.65 305.30,295.76 305.80,295.84 306.30,295.90 306.80,295.94 307.30,295.96 307.80,295.96 308.30,295.95 308.80,295.92 309.30,295.88 309.80,295.84 310.30,295.79 310.80,295.74 311.30,295.68 311.80,295.63 312.30,295.58 312.80,295.53 313.30,295.49 313.80,295.46 314.30,295.44 314.80,295.43 315.30,295.42 315.80,295.43 316.30,295.45 316.80,295.48 317.30,295.52 317.80,295.57 318.30,295.62 318.80,295.67 319.30,295.73 319.80,295.80 320.30,295.87 320.80,295.95 321.30,296.04 321.80,296.15 322.30,296.27 322.80,296.40 323.30,296.55 323.80,296.72 324.30,296.89 324.80,297.08 325.30,297.28 325.80,297.49 326.30,297.71 326.80,297.94 327.30,298.17 327.80,298.41 328.30,298.66 328.80,298.91 329.30,299.17 329.80,299.43 330.30,299.69 330.80,299.96 331.30,300.24 331.80,300.54 332.30,300.84 332.80,301.16 333.30,301.50 333.80,301.85 334.30,302.21 334.80,302.58 335.30,302.97 335.80,303.36 336.30,303.76 336.80,304.17" stroke="#2a50b0" stroke-width="1.5"/>
<path d="M264.80,259.99 265.30,260.07 265.80,260.10 266.30,260.07 266.80,259.96 267.30,259.76 267.80,259.46 268.30,259.03 268.80,258.48 269.30,257.80 269.80,257.01 270.30,256.13 270.80,255.18 271.30,254.22 271.80,253.29 272.30,252.45 272.80,251.76 273.30,251.27 273.80,251.02 274.30,251.05 274.80,251.37 275.30,251.96 275.80,252.81 276.30,253.87 276.80,255.11 277.30,256.45 277.80,257.86 278.30,259.27 278.80,260.65 279.30,261.95 279.80,263.15 280.30,264.25 280.80,265.23 281.30,266.11 281.80,266.91 282.30,267.64 282.80,268.32 283.30,268.98 283.80,269.62 284.30,270.26" stroke="#ff0000" stroke-width="1.80"/>
<path d="M330.80,299.83 331.30,299.99 331.80,300.08 332.30,300.07 332.80,299.89 333.30,299.49 333.80,298.79 334.30,297.74 334.80,296.28 335.30,294.43 335.80,292.23 336.30,289.79 336.80,287.30 337.30,284.98 337.80,283.08 338.30,281.84 338.80,281.43 339.30,281.96 339.80,283.39 340.30,285.64 340.80,288.49 341.30,291.72 341.80,295.07 342.30,298.33 342.80,301.33 343.30,303.97 343.80,306.21 344.30,308.06 344.80,309.57 345.30,310.80 345.80,311.84 346.30,312.74 346.80,313.57" stroke="#ff0000" stroke-width="1.80"/>
<path d="M274.90,232.20 V264.00" stroke="#ff0000" stroke-width="1.6"/>
<path d="M338.60,257.20 V305.00" stroke="#ff0000" stroke-width="1.6"/>
</g>
<text x="224.60" y="236.00" fill="#111" class="lb">u<tspan class="sb" dx="0.5" dy="3.6">4</tspan></text>
<text x="259.20" y="255.10" fill="#111" class="lb">u<tspan class="sb" dx="0.5" dy="3.6">3</tspan></text>
<text x="271.40" y="229.50" fill="#ff0000" class="lb">u<tspan class="sb" dx="0.5" dy="3.6">2</tspan></text>
<text x="280.50" y="252.00" fill="#111" class="lb">u<tspan class="sb" dx="0.5" dy="3.6">1</tspan></text>
<text x="289.80" y="248.30" fill="#111" class="lb">v<tspan class="sb" dx="0.5" dy="3.6">4</tspan></text>
<text x="326.50" y="292.20" fill="#111" class="lb">v<tspan class="sb" dx="0.5" dy="3.6">3</tspan></text>
<text x="337.00" y="254.90" fill="#ff0000" class="lb">v<tspan class="sb" dx="0.5" dy="3.6">2</tspan></text>
<text x="346.50" y="276.40" fill="#111" class="lb">v<tspan class="sb" dx="0.5" dy="3.6">1</tspan></text>
<rect x="209.50" y="186.00" width="165.00" height="155.20" fill="none" stroke="#111" stroke-width="1.4"/>
<path d="M221.75,341.20 V344.60" stroke="#111" stroke-width="1.2"/>
<text x="221.75" y="353.80" class="tk">920</text>
<path d="M257.35,341.20 V343.20" stroke="#111" stroke-width="1.2"/>
<path d="M292.95,341.20 V344.60" stroke="#111" stroke-width="1.2"/>
<text x="292.95" y="353.80" class="tk">900</text>
<path d="M328.55,341.20 V343.20" stroke="#111" stroke-width="1.2"/>
<path d="M364.15,341.20 V344.60" stroke="#111" stroke-width="1.2"/>
<text x="364.15" y="353.80" class="tk">880</text>
<text x="211.30" y="197.70" class="pl">(e)</text>
<text class="ax" style="font-size:14.4px" text-anchor="middle" transform="translate(17.2,93.6) rotate(-90)">Intensity (a.u.)</text>
<text class="ax" style="font-size:14.4px" text-anchor="middle" transform="translate(17.2,271.6) rotate(-90)">Intensity (a.u.)</text>
<text class="ax" x="145.6" y="379.3">Binding Energy (eV)</text>
<text class="lg" x="404.5" y="207">Ce(IV):</text>
<text class="lg" x="461.7" y="207">(<tspan class="lgi">u</tspan><tspan class="lgs" dx="0.8" dy="4">4</tspan><tspan dy="-4"> </tspan><tspan class="lgi">v</tspan><tspan class="lgs" dx="0.8" dy="4">4</tspan><tspan dy="-4">);</tspan></text><text class="lg" x="462.2" y="228.7">(<tspan class="lgi">u</tspan><tspan class="lgs" dx="0.8" dy="4">3</tspan><tspan dy="-4"> </tspan><tspan class="lgi">v</tspan><tspan class="lgs" dx="0.8" dy="4">3</tspan><tspan dy="-4">);</tspan></text><text class="lg" x="462.6" y="250.8">(<tspan class="lgi">u</tspan><tspan class="lgs" dx="0.8" dy="4">1</tspan><tspan dy="-4"> </tspan><tspan class="lgi">v</tspan><tspan class="lgs" dx="0.8" dy="4">1</tspan><tspan dy="-4">).</tspan></text>
<text class="lg" x="404.5" y="274.8">Ce(III):</text>
<text class="lg" x="462.5" y="274.5">(<tspan class="lgi">u</tspan><tspan class="lgs" dx="0.8" dy="4">2</tspan><tspan dy="-4"> </tspan><tspan class="lgi">v</tspan><tspan class="lgs" dx="0.8" dy="4">2</tspan><tspan dy="-4">).</tspan></text>
<text class="lg" x="444.5" y="308.5"><tspan class="lgi">u</tspan>:<tspan x="463.7">3d</tspan><tspan class="lgs" dx="0.3" dy="4">3/2</tspan><tspan dy="-4">;</tspan></text>
<text class="lg" x="445.5" y="331"><tspan class="lgi">v</tspan>:<tspan x="463.7">3d</tspan><tspan class="lgs" dx="0.3" dy="4">5/2</tspan><tspan dy="-4">.</tspan></text>

</svg></body></html>
